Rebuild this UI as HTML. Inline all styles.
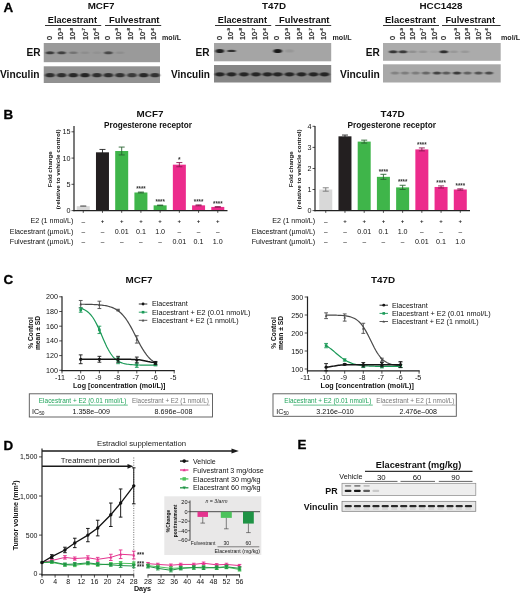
<!DOCTYPE html>
<html><head><meta charset="utf-8"><title>Figure</title>
<style>
html,body{margin:0;padding:0;background:#fff;}
svg{display:block;font-family:"Liberation Sans", Arial, sans-serif;}
</style></head><body>
<svg width="520" height="594" viewBox="0 0 520 594">
<defs>
<filter id="bl" x="-30%" y="-100%" width="160%" height="300%"><feGaussianBlur stdDeviation="0.9 0.7"/></filter>
<filter id="bl2" x="-30%" y="-100%" width="160%" height="300%"><feGaussianBlur stdDeviation="0.45"/></filter>
</defs>
<rect width="520" height="594" fill="#fff"/>
<text x="3.6" y="11.6" font-size="13.4" font-weight="bold" fill="#000" stroke="#000" stroke-width="0.3" stroke-linejoin="round">A</text>
<text x="3.6" y="118.8" font-size="13.4" font-weight="bold" fill="#000" stroke="#000" stroke-width="0.3" stroke-linejoin="round">B</text>
<text x="3.4" y="284.4" font-size="13.4" font-weight="bold" fill="#000" stroke="#000" stroke-width="0.3" stroke-linejoin="round">C</text>
<text x="3.6" y="450" font-size="13.4" font-weight="bold" fill="#000" stroke="#000" stroke-width="0.3" stroke-linejoin="round">D</text>
<text x="297.6" y="449.4" font-size="13.4" font-weight="bold" fill="#000" stroke="#000" stroke-width="0.3" stroke-linejoin="round">E</text>
<text x="101" y="9.4" font-size="9.8" font-weight="bold" text-anchor="middle" fill="#111">MCF7</text>
<text x="47.8" y="23" font-size="9.2" font-weight="bold" fill="#111" textLength="49.2" lengthAdjust="spacingAndGlyphs">Elacestrant</text>
<text x="109" y="23" font-size="9.2" font-weight="bold" fill="#111" textLength="50.5" lengthAdjust="spacingAndGlyphs">Fulvestrant</text>
<line x1="45" y1="25.5" x2="101.2" y2="25.5" stroke="#333" stroke-width="1.1" />
<line x1="105" y1="25.5" x2="161.2" y2="25.5" stroke="#333" stroke-width="1.1" />
<text x="52.1" y="40" font-size="7.3" fill="#222" transform="rotate(-90 52.1 40)" stroke="#222" stroke-width="0.22">0</text>
<text x="63.1" y="40" font-size="7.3" fill="#222" transform="rotate(-90 63.1 40)" stroke="#222" stroke-width="0.22">10<tspan font-size="4.4" dy="-2.5">-9</tspan></text>
<text x="75.10000000000001" y="40" font-size="7.3" fill="#222" transform="rotate(-90 75.10000000000001 40)" stroke="#222" stroke-width="0.22">10<tspan font-size="4.4" dy="-2.5">-8</tspan></text>
<text x="87.60000000000001" y="40" font-size="7.3" fill="#222" transform="rotate(-90 87.60000000000001 40)" stroke="#222" stroke-width="0.22">10<tspan font-size="4.4" dy="-2.5">-7</tspan></text>
<text x="98.85000000000001" y="40" font-size="7.3" fill="#222" transform="rotate(-90 98.85000000000001 40)" stroke="#222" stroke-width="0.22">10<tspan font-size="4.4" dy="-2.5">-6</tspan></text>
<text x="109.60000000000001" y="40" font-size="7.3" fill="#222" transform="rotate(-90 109.60000000000001 40)" stroke="#222" stroke-width="0.22">0</text>
<text x="120.60000000000001" y="40" font-size="7.3" fill="#222" transform="rotate(-90 120.60000000000001 40)" stroke="#222" stroke-width="0.22">10<tspan font-size="4.4" dy="-2.5">-9</tspan></text>
<text x="132.6" y="40" font-size="7.3" fill="#222" transform="rotate(-90 132.6 40)" stroke="#222" stroke-width="0.22">10<tspan font-size="4.4" dy="-2.5">-8</tspan></text>
<text x="144.6" y="40" font-size="7.3" fill="#222" transform="rotate(-90 144.6 40)" stroke="#222" stroke-width="0.22">10<tspan font-size="4.4" dy="-2.5">-7</tspan></text>
<text x="156.35" y="40" font-size="7.3" fill="#222" transform="rotate(-90 156.35 40)" stroke="#222" stroke-width="0.22">10<tspan font-size="4.4" dy="-2.5">-6</tspan></text>
<text x="162" y="39.6" font-size="7.3" font-weight="bold" fill="#222" textLength="19" lengthAdjust="spacingAndGlyphs">mol/L</text>
<rect x="43.75" y="43" width="116.25" height="19.200000000000003" fill="#9a9a9a" />
<rect x="43.75" y="66.3" width="116.25" height="16.700000000000003" fill="#919191" />
<ellipse cx="50" cy="52.7" rx="4.2" ry="1.5" fill="#000" opacity="0.62" filter="url(#bl)"/>
<ellipse cx="61.6" cy="52.7" rx="4.2" ry="1.5" fill="#000" opacity="0.58" filter="url(#bl)"/>
<ellipse cx="73.3" cy="52.7" rx="4.2" ry="1.2000000000000002" fill="#000" opacity="0.25" filter="url(#bl)"/>
<ellipse cx="85" cy="52.7" rx="4.2" ry="1.2000000000000002" fill="#000" opacity="0.08" filter="url(#bl)"/>
<ellipse cx="97" cy="52.7" rx="4.2" ry="1.2000000000000002" fill="#000" opacity="0.05" filter="url(#bl)"/>
<ellipse cx="108.4" cy="52.7" rx="4.2" ry="1.5" fill="#000" opacity="0.52" filter="url(#bl)"/>
<ellipse cx="120" cy="52.7" rx="4.2" ry="1.2000000000000002" fill="#000" opacity="0.08" filter="url(#bl)"/>
<ellipse cx="50" cy="75.2" rx="4.7" ry="2.1" fill="#000" opacity="0.68" filter="url(#bl)"/>
<ellipse cx="61.6" cy="75.2" rx="4.7" ry="2.1" fill="#000" opacity="0.68" filter="url(#bl)"/>
<ellipse cx="73.3" cy="75.2" rx="4.7" ry="2.1" fill="#000" opacity="0.72" filter="url(#bl)"/>
<ellipse cx="85" cy="75.2" rx="4.7" ry="2.1" fill="#000" opacity="0.75" filter="url(#bl)"/>
<ellipse cx="97" cy="75.2" rx="4.7" ry="2.1" fill="#000" opacity="0.68" filter="url(#bl)"/>
<ellipse cx="108.4" cy="75.2" rx="4.7" ry="2.1" fill="#000" opacity="0.68" filter="url(#bl)"/>
<ellipse cx="120" cy="75.2" rx="4.7" ry="2.1" fill="#000" opacity="0.66" filter="url(#bl)"/>
<ellipse cx="132" cy="75.2" rx="4.7" ry="2.1" fill="#000" opacity="0.6" filter="url(#bl)"/>
<ellipse cx="143.7" cy="75.2" rx="4.7" ry="2.1" fill="#000" opacity="0.72" filter="url(#bl)"/>
<ellipse cx="155" cy="75.2" rx="4.7" ry="2.1" fill="#000" opacity="0.66" filter="url(#bl)"/>
<text x="40.5" y="56.3" font-size="10.1" font-weight="bold" text-anchor="end" fill="#111">ER</text>
<text x="0" y="77.8" font-size="10.1" font-weight="bold" fill="#111" textLength="39.5" lengthAdjust="spacingAndGlyphs">Vinculin</text>
<text x="274" y="9.4" font-size="9.8" font-weight="bold" text-anchor="middle" fill="#111">T47D</text>
<text x="217.8" y="23" font-size="9.2" font-weight="bold" fill="#111" textLength="49.19999999999999" lengthAdjust="spacingAndGlyphs">Elacestrant</text>
<text x="279" y="23" font-size="9.2" font-weight="bold" fill="#111" textLength="50.5" lengthAdjust="spacingAndGlyphs">Fulvestrant</text>
<line x1="215" y1="25.5" x2="271.2" y2="25.5" stroke="#333" stroke-width="1.1" />
<line x1="275.2" y1="25.5" x2="331.2" y2="25.5" stroke="#333" stroke-width="1.1" />
<text x="221.7" y="40" font-size="7.3" fill="#222" transform="rotate(-90 221.7 40)" stroke="#222" stroke-width="0.22">0</text>
<text x="232.7" y="40" font-size="7.3" fill="#222" transform="rotate(-90 232.7 40)" stroke="#222" stroke-width="0.22">10<tspan font-size="4.4" dy="-2.5">-9</tspan></text>
<text x="244.7" y="40" font-size="7.3" fill="#222" transform="rotate(-90 244.7 40)" stroke="#222" stroke-width="0.22">10<tspan font-size="4.4" dy="-2.5">-8</tspan></text>
<text x="257.2" y="40" font-size="7.3" fill="#222" transform="rotate(-90 257.2 40)" stroke="#222" stroke-width="0.22">10<tspan font-size="4.4" dy="-2.5">-7</tspan></text>
<text x="268.45" y="40" font-size="7.3" fill="#222" transform="rotate(-90 268.45 40)" stroke="#222" stroke-width="0.22">10<tspan font-size="4.4" dy="-2.5">-6</tspan></text>
<text x="279.2" y="40" font-size="7.3" fill="#222" transform="rotate(-90 279.2 40)" stroke="#222" stroke-width="0.22">0</text>
<text x="290.2" y="40" font-size="7.3" fill="#222" transform="rotate(-90 290.2 40)" stroke="#222" stroke-width="0.22">10<tspan font-size="4.4" dy="-2.5">-9</tspan></text>
<text x="302.2" y="40" font-size="7.3" fill="#222" transform="rotate(-90 302.2 40)" stroke="#222" stroke-width="0.22">10<tspan font-size="4.4" dy="-2.5">-8</tspan></text>
<text x="314.2" y="40" font-size="7.3" fill="#222" transform="rotate(-90 314.2 40)" stroke="#222" stroke-width="0.22">10<tspan font-size="4.4" dy="-2.5">-7</tspan></text>
<text x="325.95" y="40" font-size="7.3" fill="#222" transform="rotate(-90 325.95 40)" stroke="#222" stroke-width="0.22">10<tspan font-size="4.4" dy="-2.5">-6</tspan></text>
<text x="332.5" y="39.6" font-size="7.3" font-weight="bold" fill="#222" textLength="19" lengthAdjust="spacingAndGlyphs">mol/L</text>
<rect x="214" y="43" width="117.19999999999999" height="18.299999999999997" fill="#a5a5a5" />
<rect x="214" y="65" width="117.19999999999999" height="17.5" fill="#868686" />
<ellipse cx="219.8" cy="50.9" rx="4.3" ry="2.0" fill="#000" opacity="0.8" filter="url(#bl)"/>
<ellipse cx="231.5" cy="50.9" rx="4.3" ry="1.2" fill="#000" opacity="0.7" filter="url(#bl)"/>
<ellipse cx="277.7" cy="50.9" rx="4.3" ry="2.0" fill="#000" opacity="0.85" filter="url(#bl)"/>
<ellipse cx="289.5" cy="50.9" rx="4.3" ry="1.6" fill="#000" opacity="0.08" filter="url(#bl)"/>
<ellipse cx="219.8" cy="74.3" rx="4.8" ry="2.1" fill="#000" opacity="0.72" filter="url(#bl)"/>
<ellipse cx="231.5" cy="74.3" rx="4.8" ry="2.1" fill="#000" opacity="0.72" filter="url(#bl)"/>
<ellipse cx="244" cy="74.3" rx="4.8" ry="2.1" fill="#000" opacity="0.72" filter="url(#bl)"/>
<ellipse cx="256" cy="74.3" rx="4.8" ry="2.1" fill="#000" opacity="0.72" filter="url(#bl)"/>
<ellipse cx="267.5" cy="74.3" rx="4.8" ry="2.1" fill="#000" opacity="0.72" filter="url(#bl)"/>
<ellipse cx="277.7" cy="74.3" rx="4.8" ry="2.1" fill="#000" opacity="0.72" filter="url(#bl)"/>
<ellipse cx="289.5" cy="74.3" rx="4.8" ry="2.1" fill="#000" opacity="0.72" filter="url(#bl)"/>
<ellipse cx="301.5" cy="74.3" rx="4.8" ry="2.1" fill="#000" opacity="0.72" filter="url(#bl)"/>
<ellipse cx="313.5" cy="74.3" rx="4.8" ry="2.1" fill="#000" opacity="0.72" filter="url(#bl)"/>
<ellipse cx="324.5" cy="74.3" rx="4.8" ry="2.1" fill="#000" opacity="0.72" filter="url(#bl)"/>
<text x="209.5" y="56.3" font-size="10.1" font-weight="bold" text-anchor="end" fill="#111">ER</text>
<text x="171" y="77.8" font-size="10.1" font-weight="bold" fill="#111" textLength="39" lengthAdjust="spacingAndGlyphs">Vinculin</text>
<text x="441" y="9.4" font-size="9.8" font-weight="bold" text-anchor="middle" fill="#111">HCC1428</text>
<text x="385" y="23" font-size="9.2" font-weight="bold" fill="#111" textLength="51" lengthAdjust="spacingAndGlyphs">Elacestrant</text>
<text x="445.5" y="23" font-size="9.2" font-weight="bold" fill="#111" textLength="49.5" lengthAdjust="spacingAndGlyphs">Fulvestrant</text>
<line x1="383" y1="25.5" x2="439" y2="25.5" stroke="#333" stroke-width="1.1" />
<line x1="442" y1="25.5" x2="500.6" y2="25.5" stroke="#333" stroke-width="1.1" />
<text x="395.0" y="40" font-size="7.3" fill="#222" transform="rotate(-90 395.0 40)" stroke="#222" stroke-width="0.22">0</text>
<text x="405.0" y="40" font-size="7.3" fill="#222" transform="rotate(-90 405.0 40)" stroke="#222" stroke-width="0.22">10<tspan font-size="4.4" dy="-2.5">-9</tspan></text>
<text x="415.0" y="40" font-size="7.3" fill="#222" transform="rotate(-90 415.0 40)" stroke="#222" stroke-width="0.22">10<tspan font-size="4.4" dy="-2.5">-8</tspan></text>
<text x="425.5" y="40" font-size="7.3" fill="#222" transform="rotate(-90 425.5 40)" stroke="#222" stroke-width="0.22">10<tspan font-size="4.4" dy="-2.5">-7</tspan></text>
<text x="436.5" y="40" font-size="7.3" fill="#222" transform="rotate(-90 436.5 40)" stroke="#222" stroke-width="0.22">10<tspan font-size="4.4" dy="-2.5">-6</tspan></text>
<text x="445.5" y="40" font-size="7.3" fill="#222" transform="rotate(-90 445.5 40)" stroke="#222" stroke-width="0.22">0</text>
<text x="459.7" y="40" font-size="7.3" fill="#222" transform="rotate(-90 459.7 40)" stroke="#222" stroke-width="0.22">10<tspan font-size="4.4" dy="-2.5">-9</tspan></text>
<text x="470.2" y="40" font-size="7.3" fill="#222" transform="rotate(-90 470.2 40)" stroke="#222" stroke-width="0.22">10<tspan font-size="4.4" dy="-2.5">-8</tspan></text>
<text x="480.8" y="40" font-size="7.3" fill="#222" transform="rotate(-90 480.8 40)" stroke="#222" stroke-width="0.22">10<tspan font-size="4.4" dy="-2.5">-7</tspan></text>
<text x="490.9" y="40" font-size="7.3" fill="#222" transform="rotate(-90 490.9 40)" stroke="#222" stroke-width="0.22">10<tspan font-size="4.4" dy="-2.5">-6</tspan></text>
<text x="501" y="39.6" font-size="7.3" font-weight="bold" fill="#222" textLength="19" lengthAdjust="spacingAndGlyphs">mol/L</text>
<rect x="383" y="43" width="117.69999999999999" height="17.799999999999997" fill="#ababab" />
<rect x="383" y="64.3" width="117.69999999999999" height="18.200000000000003" fill="#a8a8a8" />
<ellipse cx="393.2" cy="51.8" rx="4.2" ry="1.5" fill="#000" opacity="0.68" filter="url(#bl)"/>
<ellipse cx="403" cy="51.8" rx="4.2" ry="1.5" fill="#000" opacity="0.66" filter="url(#bl)"/>
<ellipse cx="412.5" cy="51.8" rx="4.2" ry="1.2000000000000002" fill="#000" opacity="0.15" filter="url(#bl)"/>
<ellipse cx="423" cy="51.8" rx="4.2" ry="1.2000000000000002" fill="#000" opacity="0.12" filter="url(#bl)"/>
<ellipse cx="434" cy="51.8" rx="4.2" ry="1.2000000000000002" fill="#000" opacity="0.05" filter="url(#bl)"/>
<ellipse cx="443.8" cy="51.8" rx="4.2" ry="1.5" fill="#000" opacity="0.72" filter="url(#bl)"/>
<ellipse cx="453.8" cy="51.8" rx="4.2" ry="1.2000000000000002" fill="#000" opacity="0.1" filter="url(#bl)"/>
<ellipse cx="465" cy="51.8" rx="4.2" ry="1.2000000000000002" fill="#000" opacity="0.1" filter="url(#bl)"/>
<text x="379.8" y="56.3" font-size="10.1" font-weight="bold" text-anchor="end" fill="#111">ER</text>
<text x="340" y="77.8" font-size="10.1" font-weight="bold" fill="#111" textLength="39.80000000000001" lengthAdjust="spacingAndGlyphs">Vinculin</text>
<ellipse cx="395" cy="73.1" rx="4.0" ry="1.5" fill="#000" opacity="0.22" filter="url(#bl)"/>
<ellipse cx="405" cy="73.1" rx="4.0" ry="1.5" fill="#000" opacity="0.25" filter="url(#bl)"/>
<ellipse cx="415.7" cy="73.1" rx="4.0" ry="1.5" fill="#000" opacity="0.25" filter="url(#bl)"/>
<ellipse cx="426" cy="73.1" rx="4.0" ry="1.5" fill="#000" opacity="0.38" filter="url(#bl)"/>
<ellipse cx="437" cy="73.1" rx="4.0" ry="1.5" fill="#000" opacity="0.6" filter="url(#bl)"/>
<ellipse cx="446.3" cy="73.1" rx="4.0" ry="1.5" fill="#000" opacity="0.45" filter="url(#bl)"/>
<ellipse cx="457" cy="73.1" rx="4.0" ry="1.5" fill="#000" opacity="0.65" filter="url(#bl)"/>
<ellipse cx="467.5" cy="73.1" rx="4.0" ry="1.5" fill="#000" opacity="0.42" filter="url(#bl)"/>
<ellipse cx="478.5" cy="73.1" rx="4.0" ry="1.5" fill="#000" opacity="0.5" filter="url(#bl)"/>
<ellipse cx="489" cy="73.1" rx="4.0" ry="1.5" fill="#000" opacity="0.55" filter="url(#bl)"/>
<text x="150" y="117.4" font-size="9.9" font-weight="bold" text-anchor="middle" fill="#111">MCF7</text>
<text x="104" y="128.2" font-size="8.2" font-weight="bold" fill="#111" textLength="88" lengthAdjust="spacingAndGlyphs">Progesterone receptor</text>
<rect x="76.75" y="206.14" width="13" height="4.46" fill="#d8d8d8" />
<line x1="83.25" y1="205.8225" x2="83.25" y2="206.4525" stroke="#777" stroke-width="0.9" />
<line x1="80.25" y1="205.8225" x2="86.25" y2="205.8225" stroke="#777" stroke-width="0.9" />
<line x1="80.25" y1="206.4525" x2="86.25" y2="206.4525" stroke="#777" stroke-width="0.9" />
<line x1="83.25" y1="210.6" x2="83.25" y2="212.79999999999998" stroke="#222" stroke-width="0.8" />
<rect x="95.97" y="152.32" width="13" height="58.28" fill="#231f20" />
<line x1="102.47" y1="149.4375" x2="102.47" y2="155.21249999999998" stroke="#222" stroke-width="0.9" />
<line x1="99.47" y1="149.4375" x2="105.47" y2="149.4375" stroke="#222" stroke-width="0.9" />
<line x1="99.47" y1="155.21249999999998" x2="105.47" y2="155.21249999999998" stroke="#222" stroke-width="0.9" />
<line x1="102.47" y1="210.6" x2="102.47" y2="212.79999999999998" stroke="#222" stroke-width="0.8" />
<rect x="115.19" y="151.01" width="13" height="59.59" fill="#3fb54a" />
<line x1="121.69" y1="147.075" x2="121.69" y2="154.95" stroke="#2a6432" stroke-width="0.9" />
<line x1="118.69" y1="147.075" x2="124.69" y2="147.075" stroke="#2a6432" stroke-width="0.9" />
<line x1="118.69" y1="154.95" x2="124.69" y2="154.95" stroke="#2a6432" stroke-width="0.9" />
<line x1="121.69" y1="210.6" x2="121.69" y2="212.79999999999998" stroke="#222" stroke-width="0.8" />
<rect x="134.41" y="192.49" width="13" height="18.11" fill="#3fb54a" />
<line x1="140.91" y1="192.0675" x2="140.91" y2="192.90749999999997" stroke="#2a6432" stroke-width="0.9" />
<line x1="137.91" y1="192.0675" x2="143.91" y2="192.0675" stroke="#2a6432" stroke-width="0.9" />
<line x1="137.91" y1="192.90749999999997" x2="143.91" y2="192.90749999999997" stroke="#2a6432" stroke-width="0.9" />
<text x="140.91" y="191.27" font-size="6.6" font-weight="bold" text-anchor="middle" fill="#333" textLength="9.5" lengthAdjust="spacingAndGlyphs">****</text>
<line x1="140.91" y1="210.6" x2="140.91" y2="212.79999999999998" stroke="#222" stroke-width="0.8" />
<rect x="153.63" y="205.35" width="13" height="5.25" fill="#3fb54a" />
<line x1="160.13" y1="205.0875" x2="160.13" y2="205.61249999999998" stroke="#2a6432" stroke-width="0.9" />
<line x1="157.13" y1="205.0875" x2="163.13" y2="205.0875" stroke="#2a6432" stroke-width="0.9" />
<line x1="157.13" y1="205.61249999999998" x2="163.13" y2="205.61249999999998" stroke="#2a6432" stroke-width="0.9" />
<text x="160.13" y="204.29" font-size="6.6" font-weight="bold" text-anchor="middle" fill="#333" textLength="9.5" lengthAdjust="spacingAndGlyphs">****</text>
<line x1="160.13" y1="210.6" x2="160.13" y2="212.79999999999998" stroke="#222" stroke-width="0.8" />
<rect x="172.85" y="164.66" width="13" height="45.94" fill="#ec2b8c" />
<line x1="179.35" y1="162.5625" x2="179.35" y2="166.7625" stroke="#8a1a50" stroke-width="0.9" />
<line x1="176.35" y1="162.5625" x2="182.35" y2="162.5625" stroke="#8a1a50" stroke-width="0.9" />
<line x1="176.35" y1="166.7625" x2="182.35" y2="166.7625" stroke="#8a1a50" stroke-width="0.9" />
<text x="179.35" y="161.76" font-size="6.6" font-weight="bold" text-anchor="middle" fill="#333">*</text>
<line x1="179.35" y1="210.6" x2="179.35" y2="212.79999999999998" stroke="#222" stroke-width="0.8" />
<rect x="192.07" y="205.35" width="13" height="5.25" fill="#ec2b8c" />
<line x1="198.57" y1="204.93" x2="198.57" y2="205.76999999999998" stroke="#8a1a50" stroke-width="0.9" />
<line x1="195.57" y1="204.93" x2="201.57" y2="204.93" stroke="#8a1a50" stroke-width="0.9" />
<line x1="195.57" y1="205.76999999999998" x2="201.57" y2="205.76999999999998" stroke="#8a1a50" stroke-width="0.9" />
<text x="198.57" y="204.13" font-size="6.6" font-weight="bold" text-anchor="middle" fill="#333" textLength="9.5" lengthAdjust="spacingAndGlyphs">****</text>
<line x1="198.57" y1="210.6" x2="198.57" y2="212.79999999999998" stroke="#222" stroke-width="0.8" />
<rect x="211.29" y="206.92" width="13" height="3.68" fill="#ec2b8c" />
<line x1="217.79" y1="206.6625" x2="217.79" y2="207.18749999999997" stroke="#8a1a50" stroke-width="0.9" />
<line x1="214.79" y1="206.6625" x2="220.79" y2="206.6625" stroke="#8a1a50" stroke-width="0.9" />
<line x1="214.79" y1="207.18749999999997" x2="220.79" y2="207.18749999999997" stroke="#8a1a50" stroke-width="0.9" />
<text x="217.79" y="205.86" font-size="6.6" font-weight="bold" text-anchor="middle" fill="#333" textLength="9.5" lengthAdjust="spacingAndGlyphs">****</text>
<line x1="217.79" y1="210.6" x2="217.79" y2="212.79999999999998" stroke="#222" stroke-width="0.8" />
<line x1="74" y1="126" x2="74" y2="211.2" stroke="#222" stroke-width="1.2" />
<line x1="73.4" y1="210.6" x2="227.5" y2="210.6" stroke="#222" stroke-width="1.2" />
<line x1="71.5" y1="131.8" x2="74" y2="131.8" stroke="#222" stroke-width="0.8" />
<text x="70.5" y="134.3" font-size="7.2" text-anchor="end" fill="#111">15</text>
<line x1="71.5" y1="158.1" x2="74" y2="158.1" stroke="#222" stroke-width="0.8" />
<text x="70.5" y="160.6" font-size="7.2" text-anchor="end" fill="#111">10</text>
<line x1="71.5" y1="184.3" x2="74" y2="184.3" stroke="#222" stroke-width="0.8" />
<text x="70.5" y="186.8" font-size="7.2" text-anchor="end" fill="#111">5</text>
<line x1="71.5" y1="210.6" x2="74" y2="210.6" stroke="#222" stroke-width="0.8" />
<text x="70.5" y="213.1" font-size="7.2" text-anchor="end" fill="#111">0</text>
<text x="52.5" y="169.3" font-size="6.1" font-weight="bold" text-anchor="middle" fill="#111" transform="rotate(-90 52.5 169.3)">Fold change</text>
<text x="60" y="169.3" font-size="6.1" font-weight="bold" text-anchor="middle" fill="#111" transform="rotate(-90 60 169.3)" textLength="80" lengthAdjust="spacingAndGlyphs">(relative to vehicle control)</text>
<text x="73.3" y="223.3" font-size="7.15" text-anchor="end" fill="#111">E2 (1 nmol/L)</text>
<text x="73.3" y="234.1" font-size="7.15" text-anchor="end" fill="#111" textLength="63.5" lengthAdjust="spacingAndGlyphs">Elacestrant (µmol/L)</text>
<text x="73.3" y="244.3" font-size="7.15" text-anchor="end" fill="#111" textLength="63.5" lengthAdjust="spacingAndGlyphs">Fulvestrant (µmol/L)</text>
<text x="83.25" y="223.7" font-size="6.5" text-anchor="middle" fill="#222">–</text>
<text x="83.25" y="233.79999999999998" font-size="6.5" text-anchor="middle" fill="#222">–</text>
<text x="83.25" y="244.0" font-size="6.5" text-anchor="middle" fill="#222">–</text>
<text x="102.47" y="223.3" font-size="6" font-weight="bold" text-anchor="middle" fill="#222">+</text>
<text x="102.47" y="233.79999999999998" font-size="6.5" text-anchor="middle" fill="#222">–</text>
<text x="102.47" y="244.0" font-size="6.5" text-anchor="middle" fill="#222">–</text>
<text x="121.69" y="223.3" font-size="6" font-weight="bold" text-anchor="middle" fill="#222">+</text>
<text x="121.69" y="234.1" font-size="7.15" text-anchor="middle" fill="#111">0.01</text>
<text x="121.69" y="244.0" font-size="6.5" text-anchor="middle" fill="#222">–</text>
<text x="140.91" y="223.3" font-size="6" font-weight="bold" text-anchor="middle" fill="#222">+</text>
<text x="140.91" y="234.1" font-size="7.15" text-anchor="middle" fill="#111">0.1</text>
<text x="140.91" y="244.0" font-size="6.5" text-anchor="middle" fill="#222">–</text>
<text x="160.13" y="223.3" font-size="6" font-weight="bold" text-anchor="middle" fill="#222">+</text>
<text x="160.13" y="234.1" font-size="7.15" text-anchor="middle" fill="#111">1.0</text>
<text x="160.13" y="244.0" font-size="6.5" text-anchor="middle" fill="#222">–</text>
<text x="179.35" y="223.3" font-size="6" font-weight="bold" text-anchor="middle" fill="#222">+</text>
<text x="179.35" y="233.79999999999998" font-size="6.5" text-anchor="middle" fill="#222">–</text>
<text x="179.35" y="244.3" font-size="7.15" text-anchor="middle" fill="#111">0.01</text>
<text x="198.57" y="223.3" font-size="6" font-weight="bold" text-anchor="middle" fill="#222">+</text>
<text x="198.57" y="233.79999999999998" font-size="6.5" text-anchor="middle" fill="#222">–</text>
<text x="198.57" y="244.3" font-size="7.15" text-anchor="middle" fill="#111">0.1</text>
<text x="217.79" y="223.3" font-size="6" font-weight="bold" text-anchor="middle" fill="#222">+</text>
<text x="217.79" y="233.79999999999998" font-size="6.5" text-anchor="middle" fill="#222">–</text>
<text x="217.79" y="244.3" font-size="7.15" text-anchor="middle" fill="#111">1.0</text>
<text x="392.5" y="117.4" font-size="9.9" font-weight="bold" text-anchor="middle" fill="#111">T47D</text>
<text x="347.5" y="128.2" font-size="8.2" font-weight="bold" fill="#111" textLength="88.5" lengthAdjust="spacingAndGlyphs">Progesterone receptor</text>
<rect x="319.25" y="189.5" width="13" height="21.1" fill="#d8d8d8" />
<line x1="325.75" y1="187.812" x2="325.75" y2="191.188" stroke="#777" stroke-width="0.9" />
<line x1="322.75" y1="187.812" x2="328.75" y2="187.812" stroke="#777" stroke-width="0.9" />
<line x1="322.75" y1="191.188" x2="328.75" y2="191.188" stroke="#777" stroke-width="0.9" />
<line x1="325.75" y1="210.6" x2="325.75" y2="212.79999999999998" stroke="#222" stroke-width="0.8" />
<rect x="338.47" y="136.33" width="13" height="74.27" fill="#231f20" />
<line x1="344.97" y1="135.06199999999998" x2="344.97" y2="137.59399999999997" stroke="#222" stroke-width="0.9" />
<line x1="341.97" y1="135.06199999999998" x2="347.97" y2="135.06199999999998" stroke="#222" stroke-width="0.9" />
<line x1="341.97" y1="137.59399999999997" x2="347.97" y2="137.59399999999997" stroke="#222" stroke-width="0.9" />
<line x1="344.97" y1="210.6" x2="344.97" y2="212.79999999999998" stroke="#222" stroke-width="0.8" />
<rect x="357.69" y="141.6" width="13" height="69.0" fill="#3fb54a" />
<line x1="364.19" y1="140.126" x2="364.19" y2="143.08" stroke="#2a6432" stroke-width="0.9" />
<line x1="361.19" y1="140.126" x2="367.19" y2="140.126" stroke="#2a6432" stroke-width="0.9" />
<line x1="361.19" y1="143.08" x2="367.19" y2="143.08" stroke="#2a6432" stroke-width="0.9" />
<line x1="364.19" y1="210.6" x2="364.19" y2="212.79999999999998" stroke="#222" stroke-width="0.8" />
<rect x="376.91" y="176.84" width="13" height="33.76" fill="#3fb54a" />
<line x1="383.40999999999997" y1="174.30799999999996" x2="383.40999999999997" y2="179.37199999999999" stroke="#2a6432" stroke-width="0.9" />
<line x1="380.40999999999997" y1="174.30799999999996" x2="386.40999999999997" y2="174.30799999999996" stroke="#2a6432" stroke-width="0.9" />
<line x1="380.40999999999997" y1="179.37199999999999" x2="386.40999999999997" y2="179.37199999999999" stroke="#2a6432" stroke-width="0.9" />
<text x="383.41" y="173.51" font-size="6.6" font-weight="bold" text-anchor="middle" fill="#333" textLength="9.5" lengthAdjust="spacingAndGlyphs">****</text>
<line x1="383.40999999999997" y1="210.6" x2="383.40999999999997" y2="212.79999999999998" stroke="#222" stroke-width="0.8" />
<rect x="396.13" y="187.39" width="13" height="23.21" fill="#3fb54a" />
<line x1="402.63" y1="185.27999999999997" x2="402.63" y2="189.5" stroke="#2a6432" stroke-width="0.9" />
<line x1="399.63" y1="185.27999999999997" x2="405.63" y2="185.27999999999997" stroke="#2a6432" stroke-width="0.9" />
<line x1="399.63" y1="189.5" x2="405.63" y2="189.5" stroke="#2a6432" stroke-width="0.9" />
<text x="402.63" y="184.48" font-size="6.6" font-weight="bold" text-anchor="middle" fill="#333" textLength="9.5" lengthAdjust="spacingAndGlyphs">****</text>
<line x1="402.63" y1="210.6" x2="402.63" y2="212.79999999999998" stroke="#222" stroke-width="0.8" />
<rect x="415.35" y="149.41" width="13" height="61.19" fill="#ec2b8c" />
<line x1="421.85" y1="147.933" x2="421.85" y2="150.887" stroke="#8a1a50" stroke-width="0.9" />
<line x1="418.85" y1="147.933" x2="424.85" y2="147.933" stroke="#8a1a50" stroke-width="0.9" />
<line x1="418.85" y1="150.887" x2="424.85" y2="150.887" stroke="#8a1a50" stroke-width="0.9" />
<text x="421.85" y="147.13" font-size="6.6" font-weight="bold" text-anchor="middle" fill="#333" textLength="9.5" lengthAdjust="spacingAndGlyphs">****</text>
<line x1="421.85" y1="210.6" x2="421.85" y2="212.79999999999998" stroke="#222" stroke-width="0.8" />
<rect x="434.57" y="186.97" width="13" height="23.63" fill="#ec2b8c" />
<line x1="441.07" y1="185.91299999999998" x2="441.07" y2="188.023" stroke="#8a1a50" stroke-width="0.9" />
<line x1="438.07" y1="185.91299999999998" x2="444.07" y2="185.91299999999998" stroke="#8a1a50" stroke-width="0.9" />
<line x1="438.07" y1="188.023" x2="444.07" y2="188.023" stroke="#8a1a50" stroke-width="0.9" />
<text x="441.07" y="185.11" font-size="6.6" font-weight="bold" text-anchor="middle" fill="#333" textLength="9.5" lengthAdjust="spacingAndGlyphs">****</text>
<line x1="441.07" y1="210.6" x2="441.07" y2="212.79999999999998" stroke="#222" stroke-width="0.8" />
<rect x="453.79" y="189.5" width="13" height="21.1" fill="#ec2b8c" />
<line x1="460.28999999999996" y1="188.867" x2="460.28999999999996" y2="190.133" stroke="#8a1a50" stroke-width="0.9" />
<line x1="457.28999999999996" y1="188.867" x2="463.28999999999996" y2="188.867" stroke="#8a1a50" stroke-width="0.9" />
<line x1="457.28999999999996" y1="190.133" x2="463.28999999999996" y2="190.133" stroke="#8a1a50" stroke-width="0.9" />
<text x="460.29" y="188.07" font-size="6.6" font-weight="bold" text-anchor="middle" fill="#333" textLength="9.5" lengthAdjust="spacingAndGlyphs">****</text>
<line x1="460.28999999999996" y1="210.6" x2="460.28999999999996" y2="212.79999999999998" stroke="#222" stroke-width="0.8" />
<line x1="315" y1="126" x2="315" y2="211.2" stroke="#222" stroke-width="1.2" />
<line x1="314.4" y1="210.6" x2="470" y2="210.6" stroke="#222" stroke-width="1.2" />
<line x1="312.5" y1="126.3" x2="315" y2="126.3" stroke="#222" stroke-width="0.8" />
<text x="311.5" y="128.8" font-size="7.2" text-anchor="end" fill="#111">4</text>
<line x1="312.5" y1="147.4" x2="315" y2="147.4" stroke="#222" stroke-width="0.8" />
<text x="311.5" y="149.9" font-size="7.2" text-anchor="end" fill="#111">3</text>
<line x1="312.5" y1="168.5" x2="315" y2="168.5" stroke="#222" stroke-width="0.8" />
<text x="311.5" y="171.0" font-size="7.2" text-anchor="end" fill="#111">2</text>
<line x1="312.5" y1="189.5" x2="315" y2="189.5" stroke="#222" stroke-width="0.8" />
<text x="311.5" y="192.0" font-size="7.2" text-anchor="end" fill="#111">1</text>
<line x1="312.5" y1="210.6" x2="315" y2="210.6" stroke="#222" stroke-width="0.8" />
<text x="311.5" y="213.1" font-size="7.2" text-anchor="end" fill="#111">0</text>
<text x="293.5" y="169.3" font-size="6.1" font-weight="bold" text-anchor="middle" fill="#111" transform="rotate(-90 293.5 169.3)">Fold change</text>
<text x="301" y="169.3" font-size="6.1" font-weight="bold" text-anchor="middle" fill="#111" transform="rotate(-90 301 169.3)" textLength="80" lengthAdjust="spacingAndGlyphs">(relative to vehicle control)</text>
<text x="315.2" y="223.3" font-size="7.15" text-anchor="end" fill="#111">E2 (1 nmol/L)</text>
<text x="315.2" y="234.1" font-size="7.15" text-anchor="end" fill="#111" textLength="63.5" lengthAdjust="spacingAndGlyphs">Elacestrant (µmol/L)</text>
<text x="315.2" y="244.3" font-size="7.15" text-anchor="end" fill="#111" textLength="63.5" lengthAdjust="spacingAndGlyphs">Fulvestrant (µmol/L)</text>
<text x="325.75" y="223.7" font-size="6.5" text-anchor="middle" fill="#222">–</text>
<text x="325.75" y="233.79999999999998" font-size="6.5" text-anchor="middle" fill="#222">–</text>
<text x="325.75" y="244.0" font-size="6.5" text-anchor="middle" fill="#222">–</text>
<text x="344.97" y="223.3" font-size="6" font-weight="bold" text-anchor="middle" fill="#222">+</text>
<text x="344.97" y="233.79999999999998" font-size="6.5" text-anchor="middle" fill="#222">–</text>
<text x="344.97" y="244.0" font-size="6.5" text-anchor="middle" fill="#222">–</text>
<text x="364.19" y="223.3" font-size="6" font-weight="bold" text-anchor="middle" fill="#222">+</text>
<text x="364.19" y="234.1" font-size="7.15" text-anchor="middle" fill="#111">0.01</text>
<text x="364.19" y="244.0" font-size="6.5" text-anchor="middle" fill="#222">–</text>
<text x="383.41" y="223.3" font-size="6" font-weight="bold" text-anchor="middle" fill="#222">+</text>
<text x="383.41" y="234.1" font-size="7.15" text-anchor="middle" fill="#111">0.1</text>
<text x="383.41" y="244.0" font-size="6.5" text-anchor="middle" fill="#222">–</text>
<text x="402.63" y="223.3" font-size="6" font-weight="bold" text-anchor="middle" fill="#222">+</text>
<text x="402.63" y="234.1" font-size="7.15" text-anchor="middle" fill="#111">1.0</text>
<text x="402.63" y="244.0" font-size="6.5" text-anchor="middle" fill="#222">–</text>
<text x="421.85" y="223.3" font-size="6" font-weight="bold" text-anchor="middle" fill="#222">+</text>
<text x="421.85" y="233.79999999999998" font-size="6.5" text-anchor="middle" fill="#222">–</text>
<text x="421.85" y="244.3" font-size="7.15" text-anchor="middle" fill="#111">0.01</text>
<text x="441.07" y="223.3" font-size="6" font-weight="bold" text-anchor="middle" fill="#222">+</text>
<text x="441.07" y="233.79999999999998" font-size="6.5" text-anchor="middle" fill="#222">–</text>
<text x="441.07" y="244.3" font-size="7.15" text-anchor="middle" fill="#111">0.1</text>
<text x="460.29" y="223.3" font-size="6" font-weight="bold" text-anchor="middle" fill="#222">+</text>
<text x="460.29" y="233.79999999999998" font-size="6.5" text-anchor="middle" fill="#222">–</text>
<text x="460.29" y="244.3" font-size="7.15" text-anchor="middle" fill="#111">1.0</text>
<text x="139" y="282.5" font-size="9.9" font-weight="bold" text-anchor="middle" fill="#111">MCF7</text>
<line x1="62" y1="296.3" x2="62" y2="371.20000000000005" stroke="#222" stroke-width="1.2" />
<line x1="61.4" y1="370.6" x2="174.8" y2="370.6" stroke="#222" stroke-width="1.2" />
<line x1="59.2" y1="296.8" x2="62" y2="296.8" stroke="#222" stroke-width="0.8" />
<text x="58.0" y="299.3" font-size="7.15" text-anchor="end" fill="#111">200</text>
<line x1="59.2" y1="311.5" x2="62" y2="311.5" stroke="#222" stroke-width="0.8" />
<text x="58.0" y="314.0" font-size="7.15" text-anchor="end" fill="#111">180</text>
<line x1="59.2" y1="326.2" x2="62" y2="326.2" stroke="#222" stroke-width="0.8" />
<text x="58.0" y="328.7" font-size="7.15" text-anchor="end" fill="#111">160</text>
<line x1="59.2" y1="340.90000000000003" x2="62" y2="340.90000000000003" stroke="#222" stroke-width="0.8" />
<text x="58.0" y="343.4" font-size="7.15" text-anchor="end" fill="#111">140</text>
<line x1="59.2" y1="355.6" x2="62" y2="355.6" stroke="#222" stroke-width="0.8" />
<text x="58.0" y="358.1" font-size="7.15" text-anchor="end" fill="#111">120</text>
<line x1="59.2" y1="370.3" x2="62" y2="370.3" stroke="#222" stroke-width="0.8" />
<text x="58.0" y="372.8" font-size="7.15" text-anchor="end" fill="#111">100</text>
<line x1="62.0" y1="370.6" x2="62.0" y2="373.40000000000003" stroke="#222" stroke-width="0.8" />
<text x="60.0" y="379.5" font-size="7.15" text-anchor="middle" fill="#111">-11</text>
<line x1="80.7" y1="370.6" x2="80.7" y2="373.40000000000003" stroke="#222" stroke-width="0.8" />
<text x="79.7" y="379.5" font-size="7.15" text-anchor="middle" fill="#111">-10</text>
<line x1="99.4" y1="370.6" x2="99.4" y2="373.40000000000003" stroke="#222" stroke-width="0.8" />
<text x="98.4" y="379.5" font-size="7.15" text-anchor="middle" fill="#111">-9</text>
<line x1="118.1" y1="370.6" x2="118.1" y2="373.40000000000003" stroke="#222" stroke-width="0.8" />
<text x="117.1" y="379.5" font-size="7.15" text-anchor="middle" fill="#111">-8</text>
<line x1="136.8" y1="370.6" x2="136.8" y2="373.40000000000003" stroke="#222" stroke-width="0.8" />
<text x="135.8" y="379.5" font-size="7.15" text-anchor="middle" fill="#111">-7</text>
<line x1="155.5" y1="370.6" x2="155.5" y2="373.40000000000003" stroke="#222" stroke-width="0.8" />
<text x="154.5" y="379.5" font-size="7.15" text-anchor="middle" fill="#111">-6</text>
<line x1="174.2" y1="370.6" x2="174.2" y2="373.40000000000003" stroke="#222" stroke-width="0.8" />
<text x="173.2" y="379.5" font-size="7.15" text-anchor="middle" fill="#111">-5</text>
<text x="73" y="388.1" font-size="7.2" font-weight="bold" fill="#111" textLength="92.5" lengthAdjust="spacingAndGlyphs">Log [concentration (mol/L)]</text>
<text x="32.6" y="333" font-size="6.7" font-weight="bold" text-anchor="middle" fill="#111" transform="rotate(-90 32.6 333)">% Control</text>
<text x="40.300000000000004" y="333" font-size="6.7" font-weight="bold" text-anchor="middle" fill="#111" transform="rotate(-90 40.300000000000004 333)">mean ± SD</text>
<polyline points="80.70,304.22 81.95,304.24 83.19,304.25 84.44,304.27 85.69,304.29 86.93,304.31 88.18,304.33 89.43,304.36 90.67,304.40 91.92,304.44 93.17,304.49 94.41,304.54 95.66,304.61 96.91,304.69 98.15,304.77 99.40,304.88 100.65,304.99 101.89,305.13 103.14,305.29 104.39,305.48 105.63,305.69 106.88,305.94 108.13,306.23 109.37,306.56 110.62,306.95 111.87,307.39 113.11,307.89 114.36,308.47 115.61,309.13 116.85,309.88 118.10,310.74 119.35,311.70 120.59,312.78 121.84,313.99 123.09,315.34 124.33,316.83 125.58,318.46 126.83,320.24 128.07,322.16 129.32,324.21 130.57,326.38 131.81,328.66 133.06,331.01 134.31,333.43 135.55,335.88 136.80,338.33 138.05,340.75 139.29,343.12 140.54,345.42 141.79,347.61 143.03,349.69 144.28,351.63 145.53,353.44 146.77,355.10 148.02,356.62 149.27,357.99 150.51,359.23 151.76,360.34 153.01,361.33 154.25,362.20 155.50,362.97" fill="none" stroke="#4a4a4a" stroke-width="1.2"/>
<line x1="80.7" y1="300.47499999999997" x2="80.7" y2="307.825" stroke="#4a4a4a" stroke-width="0.9" />
<line x1="78.8" y1="300.47499999999997" x2="82.60000000000001" y2="300.47499999999997" stroke="#4a4a4a" stroke-width="0.9" />
<line x1="78.8" y1="307.825" x2="82.60000000000001" y2="307.825" stroke="#4a4a4a" stroke-width="0.9" />
<polygon points="79.40,305.25 82.00,305.25 80.70,302.85" fill="#4a4a4a"/>
<line x1="99.4" y1="301.21" x2="99.4" y2="308.56" stroke="#4a4a4a" stroke-width="0.9" />
<line x1="97.5" y1="301.21" x2="101.30000000000001" y2="301.21" stroke="#4a4a4a" stroke-width="0.9" />
<line x1="97.5" y1="308.56" x2="101.30000000000001" y2="308.56" stroke="#4a4a4a" stroke-width="0.9" />
<polygon points="98.10,305.99 100.70,305.99 99.40,303.58" fill="#4a4a4a"/>
<line x1="118.1" y1="309.295" x2="118.1" y2="310.76500000000004" stroke="#4a4a4a" stroke-width="0.9" />
<line x1="116.19999999999999" y1="309.295" x2="120.0" y2="309.295" stroke="#4a4a4a" stroke-width="0.9" />
<line x1="116.19999999999999" y1="310.76500000000004" x2="120.0" y2="310.76500000000004" stroke="#4a4a4a" stroke-width="0.9" />
<polygon points="116.80,311.13 119.40,311.13 118.10,308.73" fill="#4a4a4a"/>
<line x1="136.8" y1="335.755" x2="136.8" y2="343.105" stroke="#4a4a4a" stroke-width="0.9" />
<line x1="134.9" y1="335.755" x2="138.70000000000002" y2="335.755" stroke="#4a4a4a" stroke-width="0.9" />
<line x1="134.9" y1="343.105" x2="138.70000000000002" y2="343.105" stroke="#4a4a4a" stroke-width="0.9" />
<polygon points="135.50,340.53 138.10,340.53 136.80,338.13" fill="#4a4a4a"/>
<line x1="155.5" y1="362.215" x2="155.5" y2="365.15500000000003" stroke="#4a4a4a" stroke-width="0.9" />
<line x1="153.6" y1="362.215" x2="157.4" y2="362.215" stroke="#4a4a4a" stroke-width="0.9" />
<line x1="153.6" y1="365.15500000000003" x2="157.4" y2="365.15500000000003" stroke="#4a4a4a" stroke-width="0.9" />
<polygon points="154.20,364.79 156.80,364.79 155.50,362.38" fill="#4a4a4a"/>
<polyline points="80.70,308.27 81.95,308.68 83.19,309.16 84.44,309.75 85.69,310.45 86.93,311.27 88.18,312.25 89.43,313.40 90.67,314.73 91.92,316.27 93.17,318.02 94.41,320.00 95.66,322.21 96.91,324.62 98.15,327.22 99.40,329.98 100.65,332.85 101.89,335.77 103.14,338.69 104.39,341.56 105.63,344.32 106.88,346.92 108.13,349.33 109.37,351.53 110.62,353.50 111.87,355.26 113.11,356.79 114.36,358.12 115.61,359.27 116.85,360.25 118.10,361.07 119.35,361.77 120.59,362.35 121.84,362.84 123.09,363.24 124.33,363.58 125.58,363.86 126.83,364.09 128.07,364.28 129.32,364.44 130.57,364.56 131.81,364.67 133.06,364.76 134.31,364.83 135.55,364.89 136.80,364.94 138.05,364.98 139.29,365.01 140.54,365.03 141.79,365.06 143.03,365.07 144.28,365.09 145.53,365.10 146.77,365.11 148.02,365.12 149.27,365.13 150.51,365.13 151.76,365.13 153.01,365.14 154.25,365.14 155.50,365.14" fill="none" stroke="#1b9a58" stroke-width="1.2"/>
<line x1="80.7" y1="307.82500000000005" x2="80.7" y2="312.235" stroke="#1b9a58" stroke-width="0.9" />
<line x1="78.8" y1="307.82500000000005" x2="82.60000000000001" y2="307.82500000000005" stroke="#1b9a58" stroke-width="0.9" />
<line x1="78.8" y1="312.235" x2="82.60000000000001" y2="312.235" stroke="#1b9a58" stroke-width="0.9" />
<rect x="79.4" y="308.73" width="2.6" height="2.6" fill="#1b9a58" />
<line x1="99.4" y1="326.2" x2="99.4" y2="333.55" stroke="#1b9a58" stroke-width="0.9" />
<line x1="97.5" y1="326.2" x2="101.30000000000001" y2="326.2" stroke="#1b9a58" stroke-width="0.9" />
<line x1="97.5" y1="333.55" x2="101.30000000000001" y2="333.55" stroke="#1b9a58" stroke-width="0.9" />
<rect x="98.1" y="328.57" width="2.6" height="2.6" fill="#1b9a58" />
<line x1="118.1" y1="357.805" x2="118.1" y2="363.685" stroke="#1b9a58" stroke-width="0.9" />
<line x1="116.19999999999999" y1="357.805" x2="120.0" y2="357.805" stroke="#1b9a58" stroke-width="0.9" />
<line x1="116.19999999999999" y1="363.685" x2="120.0" y2="363.685" stroke="#1b9a58" stroke-width="0.9" />
<rect x="116.8" y="359.44" width="2.6" height="2.6" fill="#1b9a58" />
<line x1="136.8" y1="362.95000000000005" x2="136.8" y2="367.36" stroke="#1b9a58" stroke-width="0.9" />
<line x1="134.9" y1="362.95000000000005" x2="138.70000000000002" y2="362.95000000000005" stroke="#1b9a58" stroke-width="0.9" />
<line x1="134.9" y1="367.36" x2="138.70000000000002" y2="367.36" stroke="#1b9a58" stroke-width="0.9" />
<rect x="135.5" y="363.86" width="2.6" height="2.6" fill="#1b9a58" />
<line x1="155.5" y1="362.95" x2="155.5" y2="365.89000000000004" stroke="#1b9a58" stroke-width="0.9" />
<line x1="153.6" y1="362.95" x2="157.4" y2="362.95" stroke="#1b9a58" stroke-width="0.9" />
<line x1="153.6" y1="365.89000000000004" x2="157.4" y2="365.89000000000004" stroke="#1b9a58" stroke-width="0.9" />
<rect x="154.2" y="363.12" width="2.6" height="2.6" fill="#1b9a58" />
<polyline points="80.70,359.28 81.95,359.28 83.19,359.28 84.44,359.28 85.69,359.28 86.93,359.28 88.18,359.28 89.43,359.28 90.67,359.28 91.92,359.28 93.17,359.28 94.41,359.28 95.66,359.28 96.91,359.28 98.15,359.28 99.40,359.28 100.65,359.28 101.89,359.28 103.14,359.28 104.39,359.28 105.63,359.28 106.88,359.28 108.13,359.28 109.37,359.28 110.62,359.28 111.87,359.28 113.11,359.28 114.36,359.28 115.61,359.28 116.85,359.28 118.10,359.28 119.35,359.28 120.59,359.28 121.84,359.28 123.09,359.29 124.33,359.29 125.58,359.30 126.83,359.31 128.07,359.32 129.32,359.33 130.57,359.35 131.81,359.38 133.06,359.42 134.31,359.46 135.55,359.53 136.80,359.61 138.05,359.71 139.29,359.85 140.54,360.01 141.79,360.21 143.03,360.44 144.28,360.70 145.53,360.97 146.77,361.25 148.02,361.53 149.27,361.78 150.51,362.01 151.76,362.21 153.01,362.38 154.25,362.51 155.50,362.62" fill="none" stroke="#151515" stroke-width="1.5"/>
<line x1="80.7" y1="354.865" x2="80.7" y2="363.68500000000006" stroke="#151515" stroke-width="0.9" />
<line x1="78.8" y1="354.865" x2="82.60000000000001" y2="354.865" stroke="#151515" stroke-width="0.9" />
<line x1="78.8" y1="363.68500000000006" x2="82.60000000000001" y2="363.68500000000006" stroke="#151515" stroke-width="0.9" />
<circle cx="80.70" cy="359.28" r="1.6" fill="#151515"/>
<line x1="99.4" y1="356.33500000000004" x2="99.4" y2="362.21500000000003" stroke="#151515" stroke-width="0.9" />
<line x1="97.5" y1="356.33500000000004" x2="101.30000000000001" y2="356.33500000000004" stroke="#151515" stroke-width="0.9" />
<line x1="97.5" y1="362.21500000000003" x2="101.30000000000001" y2="362.21500000000003" stroke="#151515" stroke-width="0.9" />
<circle cx="99.40" cy="359.28" r="1.6" fill="#151515"/>
<line x1="118.1" y1="356.33500000000004" x2="118.1" y2="362.21500000000003" stroke="#151515" stroke-width="0.9" />
<line x1="116.19999999999999" y1="356.33500000000004" x2="120.0" y2="356.33500000000004" stroke="#151515" stroke-width="0.9" />
<line x1="116.19999999999999" y1="362.21500000000003" x2="120.0" y2="362.21500000000003" stroke="#151515" stroke-width="0.9" />
<circle cx="118.10" cy="359.28" r="1.6" fill="#151515"/>
<line x1="136.8" y1="357.07" x2="136.8" y2="362.95" stroke="#151515" stroke-width="0.9" />
<line x1="134.9" y1="357.07" x2="138.70000000000002" y2="357.07" stroke="#151515" stroke-width="0.9" />
<line x1="134.9" y1="362.95" x2="138.70000000000002" y2="362.95" stroke="#151515" stroke-width="0.9" />
<circle cx="136.80" cy="360.01" r="1.6" fill="#151515"/>
<line x1="155.5" y1="361.47999999999996" x2="155.5" y2="364.42" stroke="#151515" stroke-width="0.9" />
<line x1="153.6" y1="361.47999999999996" x2="157.4" y2="361.47999999999996" stroke="#151515" stroke-width="0.9" />
<line x1="153.6" y1="364.42" x2="157.4" y2="364.42" stroke="#151515" stroke-width="0.9" />
<circle cx="155.50" cy="362.95" r="1.6" fill="#151515"/>
<line x1="138.8" y1="304.0" x2="147.3" y2="304.0" stroke="#151515" stroke-width="0.9" />
<circle cx="143.05" cy="304.0" r="1.4" fill="#151515"/>
<text x="152" y="306.3" font-size="7.15" fill="#111">Elacestrant</text>
<line x1="138.8" y1="312.2" x2="147.3" y2="312.2" stroke="#1b9a58" stroke-width="0.9" />
<rect x="141.75" y="310.9" width="2.6" height="2.6" fill="#1b9a58" />
<text x="152" y="314.5" font-size="7.15" fill="#111" textLength="98.5" lengthAdjust="spacingAndGlyphs">Elacestrant + E2 (0.01 nmol/L)</text>
<line x1="138.8" y1="320.3" x2="147.3" y2="320.3" stroke="#4a4a4a" stroke-width="0.9" />
<polygon points="141.75,321.40000000000003 144.35000000000002,321.40000000000003 143.05,319.0" fill="#4a4a4a"/>
<text x="152" y="322.6" font-size="7.15" fill="#111">Elacestrant + E2 (1 nmol/L)</text>
<rect x="29.3" y="393.8" width="183.2" height="23.19999999999999" fill="#fff" stroke="#555" stroke-width="0.9" />
<text x="38.8" y="403.1" font-size="6.3" fill="#22a55c" textLength="87.5" lengthAdjust="spacingAndGlyphs">Elacestrant + E2 (0.01 nmol/L)</text>
<line x1="47.8" y1="405.1" x2="127.8" y2="405.1" stroke="#22a55c" stroke-width="0.7" />
<text x="132" y="403.1" font-size="6.3" fill="#777" textLength="76.80000000000001" lengthAdjust="spacingAndGlyphs">Elacestrant + E2 (1 nmol/L)</text>
<line x1="138" y1="405.1" x2="209.8" y2="405.1" stroke="#777" stroke-width="0.6" />
<text x="32" y="413.8" font-size="7.15" fill="#111">IC<tspan font-size="4.8" dy="1.6">50</tspan></text>
<text x="72.5" y="413.8" font-size="7.15" fill="#111" textLength="37.5" lengthAdjust="spacingAndGlyphs">1.358e–009</text>
<text x="154.5" y="413.8" font-size="7.15" fill="#111" textLength="38.0" lengthAdjust="spacingAndGlyphs">8.696e–008</text>
<text x="383" y="282.5" font-size="9.9" font-weight="bold" text-anchor="middle" fill="#111">T47D</text>
<line x1="307.5" y1="296.5" x2="307.5" y2="371.5" stroke="#222" stroke-width="1.2" />
<line x1="306.9" y1="370.9" x2="419.7" y2="370.9" stroke="#222" stroke-width="1.2" />
<line x1="304.7" y1="297.0" x2="307.5" y2="297.0" stroke="#222" stroke-width="0.8" />
<text x="303.2" y="299.5" font-size="7.15" text-anchor="end" fill="#111">300</text>
<line x1="304.7" y1="315.0" x2="307.5" y2="315.0" stroke="#222" stroke-width="0.8" />
<text x="303.2" y="317.5" font-size="7.15" text-anchor="end" fill="#111">250</text>
<line x1="304.7" y1="333.0" x2="307.5" y2="333.0" stroke="#222" stroke-width="0.8" />
<text x="303.2" y="335.5" font-size="7.15" text-anchor="end" fill="#111">200</text>
<line x1="304.7" y1="351.0" x2="307.5" y2="351.0" stroke="#222" stroke-width="0.8" />
<text x="303.2" y="353.5" font-size="7.15" text-anchor="end" fill="#111">150</text>
<line x1="304.7" y1="369.0" x2="307.5" y2="369.0" stroke="#222" stroke-width="0.8" />
<text x="303.2" y="371.5" font-size="7.15" text-anchor="end" fill="#111">100</text>
<line x1="307.5" y1="370.9" x2="307.5" y2="373.7" stroke="#222" stroke-width="0.8" />
<text x="305.5" y="379.5" font-size="7.15" text-anchor="middle" fill="#111">-11</text>
<line x1="326.1" y1="370.9" x2="326.1" y2="373.7" stroke="#222" stroke-width="0.8" />
<text x="325.1" y="379.5" font-size="7.15" text-anchor="middle" fill="#111">-10</text>
<line x1="344.7" y1="370.9" x2="344.7" y2="373.7" stroke="#222" stroke-width="0.8" />
<text x="343.7" y="379.5" font-size="7.15" text-anchor="middle" fill="#111">-9</text>
<line x1="363.3" y1="370.9" x2="363.3" y2="373.7" stroke="#222" stroke-width="0.8" />
<text x="362.3" y="379.5" font-size="7.15" text-anchor="middle" fill="#111">-8</text>
<line x1="381.9" y1="370.9" x2="381.9" y2="373.7" stroke="#222" stroke-width="0.8" />
<text x="380.9" y="379.5" font-size="7.15" text-anchor="middle" fill="#111">-7</text>
<line x1="400.5" y1="370.9" x2="400.5" y2="373.7" stroke="#222" stroke-width="0.8" />
<text x="399.5" y="379.5" font-size="7.15" text-anchor="middle" fill="#111">-6</text>
<line x1="419.1" y1="370.9" x2="419.1" y2="373.7" stroke="#222" stroke-width="0.8" />
<text x="418.1" y="379.5" font-size="7.15" text-anchor="middle" fill="#111">-5</text>
<text x="320.5" y="388.1" font-size="7.2" font-weight="bold" fill="#111" textLength="93.30000000000001" lengthAdjust="spacingAndGlyphs">Log [concentration (mol/L)]</text>
<text x="275.7" y="333" font-size="6.7" font-weight="bold" text-anchor="middle" fill="#111" transform="rotate(-90 275.7 333)">% Control</text>
<text x="283.4" y="333" font-size="6.7" font-weight="bold" text-anchor="middle" fill="#111" transform="rotate(-90 283.4 333)">mean ± SD</text>
<polyline points="326.10,315.04 327.34,315.05 328.58,315.06 329.82,315.07 331.06,315.09 332.30,315.10 333.54,315.13 334.78,315.16 336.02,315.19 337.26,315.23 338.50,315.28 339.74,315.35 340.98,315.42 342.22,315.51 343.46,315.63 344.70,315.76 345.94,315.93 347.18,316.13 348.42,316.37 349.66,316.66 350.90,317.02 352.14,317.44 353.38,317.95 354.62,318.55 355.86,319.27 357.10,320.12 358.34,321.12 359.58,322.28 360.82,323.61 362.06,325.14 363.30,326.86 364.54,328.77 365.78,330.87 367.02,333.13 368.26,335.53 369.50,338.02 370.74,340.56 371.98,343.10 373.22,345.59 374.46,347.99 375.70,350.25 376.94,352.35 378.18,354.26 379.42,355.98 380.66,357.51 381.90,358.84 383.14,360.00 384.38,361.00 385.62,361.85 386.86,362.57 388.10,363.17 389.34,363.68 390.58,364.10 391.82,364.46 393.06,364.75 394.30,364.99 395.54,365.19 396.78,365.36 398.02,365.49 399.26,365.61 400.50,365.70" fill="none" stroke="#4a4a4a" stroke-width="1.2"/>
<line x1="326.1" y1="312.84000000000003" x2="326.1" y2="318.6" stroke="#4a4a4a" stroke-width="0.9" />
<line x1="324.20000000000005" y1="312.84000000000003" x2="328.0" y2="312.84000000000003" stroke="#4a4a4a" stroke-width="0.9" />
<line x1="324.20000000000005" y1="318.6" x2="328.0" y2="318.6" stroke="#4a4a4a" stroke-width="0.9" />
<polygon points="324.80,316.82 327.40,316.82 326.10,314.42" fill="#4a4a4a"/>
<line x1="344.7" y1="313.91999999999996" x2="344.7" y2="321.12" stroke="#4a4a4a" stroke-width="0.9" />
<line x1="342.8" y1="313.91999999999996" x2="346.59999999999997" y2="313.91999999999996" stroke="#4a4a4a" stroke-width="0.9" />
<line x1="342.8" y1="321.12" x2="346.59999999999997" y2="321.12" stroke="#4a4a4a" stroke-width="0.9" />
<polygon points="343.40,318.62 346.00,318.62 344.70,316.22" fill="#4a4a4a"/>
<line x1="363.3" y1="323.28" x2="363.3" y2="333.36" stroke="#4a4a4a" stroke-width="0.9" />
<line x1="361.40000000000003" y1="323.28" x2="365.2" y2="323.28" stroke="#4a4a4a" stroke-width="0.9" />
<line x1="361.40000000000003" y1="333.36" x2="365.2" y2="333.36" stroke="#4a4a4a" stroke-width="0.9" />
<polygon points="362.00,329.42 364.60,329.42 363.30,327.02" fill="#4a4a4a"/>
<line x1="381.9" y1="358.2" x2="381.9" y2="361.8" stroke="#4a4a4a" stroke-width="0.9" />
<line x1="380.0" y1="358.2" x2="383.79999999999995" y2="358.2" stroke="#4a4a4a" stroke-width="0.9" />
<line x1="380.0" y1="361.8" x2="383.79999999999995" y2="361.8" stroke="#4a4a4a" stroke-width="0.9" />
<polygon points="380.60,361.10 383.20,361.10 381.90,358.70" fill="#4a4a4a"/>
<line x1="400.5" y1="361.8" x2="400.5" y2="367.56" stroke="#4a4a4a" stroke-width="0.9" />
<line x1="398.6" y1="361.8" x2="402.4" y2="361.8" stroke="#4a4a4a" stroke-width="0.9" />
<line x1="398.6" y1="367.56" x2="402.4" y2="367.56" stroke="#4a4a4a" stroke-width="0.9" />
<polygon points="399.20,365.78 401.80,365.78 400.50,363.38" fill="#4a4a4a"/>
<polyline points="326.10,345.58 327.34,346.37 328.58,347.21 329.82,348.11 331.06,349.06 332.30,350.06 333.54,351.08 334.78,352.12 336.02,353.17 337.26,354.21 338.50,355.24 339.74,356.24 340.98,357.20 342.22,358.12 343.46,358.99 344.70,359.79 345.94,360.54 347.18,361.22 348.42,361.84 349.66,362.40 350.90,362.91 352.14,363.36 353.38,363.76 354.62,364.11 355.86,364.42 357.10,364.70 358.34,364.94 359.58,365.15 360.82,365.33 362.06,365.49 363.30,365.62 364.54,365.74 365.78,365.84 367.02,365.93 368.26,366.01 369.50,366.08 370.74,366.13 371.98,366.18 373.22,366.22 374.46,366.26 375.70,366.29 376.94,366.32 378.18,366.34 379.42,366.36 380.66,366.38 381.90,366.39 383.14,366.40 384.38,366.42 385.62,366.42 386.86,366.43 388.10,366.44 389.34,366.44 390.58,366.45 391.82,366.45 393.06,366.46 394.30,366.46 395.54,366.46 396.78,366.47 398.02,366.47 399.26,366.47 400.50,366.47" fill="none" stroke="#1b9a58" stroke-width="1.2"/>
<line x1="326.1" y1="343.44" x2="326.1" y2="347.76000000000005" stroke="#1b9a58" stroke-width="0.9" />
<line x1="324.20000000000005" y1="343.44" x2="328.0" y2="343.44" stroke="#1b9a58" stroke-width="0.9" />
<line x1="324.20000000000005" y1="347.76000000000005" x2="328.0" y2="347.76000000000005" stroke="#1b9a58" stroke-width="0.9" />
<rect x="324.8" y="344.3" width="2.6" height="2.6" fill="#1b9a58" />
<line x1="344.7" y1="358.92" x2="344.7" y2="361.08" stroke="#1b9a58" stroke-width="0.9" />
<line x1="342.8" y1="358.92" x2="346.59999999999997" y2="358.92" stroke="#1b9a58" stroke-width="0.9" />
<line x1="342.8" y1="361.08" x2="346.59999999999997" y2="361.08" stroke="#1b9a58" stroke-width="0.9" />
<rect x="343.4" y="358.7" width="2.6" height="2.6" fill="#1b9a58" />
<line x1="363.3" y1="364.68" x2="363.3" y2="367.56" stroke="#1b9a58" stroke-width="0.9" />
<line x1="361.40000000000003" y1="364.68" x2="365.2" y2="364.68" stroke="#1b9a58" stroke-width="0.9" />
<line x1="361.40000000000003" y1="367.56" x2="365.2" y2="367.56" stroke="#1b9a58" stroke-width="0.9" />
<rect x="362.0" y="364.82" width="2.6" height="2.6" fill="#1b9a58" />
<line x1="381.9" y1="365.04" x2="381.9" y2="367.92" stroke="#1b9a58" stroke-width="0.9" />
<line x1="380.0" y1="365.04" x2="383.79999999999995" y2="365.04" stroke="#1b9a58" stroke-width="0.9" />
<line x1="380.0" y1="367.92" x2="383.79999999999995" y2="367.92" stroke="#1b9a58" stroke-width="0.9" />
<rect x="380.6" y="365.18" width="2.6" height="2.6" fill="#1b9a58" />
<line x1="400.5" y1="364.68" x2="400.5" y2="367.56" stroke="#1b9a58" stroke-width="0.9" />
<line x1="398.6" y1="364.68" x2="402.4" y2="364.68" stroke="#1b9a58" stroke-width="0.9" />
<line x1="398.6" y1="367.56" x2="402.4" y2="367.56" stroke="#1b9a58" stroke-width="0.9" />
<rect x="399.2" y="364.82" width="2.6" height="2.6" fill="#1b9a58" />
<polyline points="326.10,367.17 327.34,367.05 328.58,366.91 329.82,366.74 331.06,366.55 332.30,366.34 333.54,366.12 334.78,365.90 336.02,365.69 337.26,365.50 338.50,365.33 339.74,365.19 340.98,365.07 342.22,364.98 343.46,364.91 344.70,364.85 345.94,364.81 347.18,364.78 348.42,364.75 349.66,364.73 350.90,364.72 352.14,364.71 353.38,364.70 354.62,364.70 355.86,364.69 357.10,364.69 358.34,364.69 359.58,364.68 360.82,364.68 362.06,364.68 363.30,364.68 364.54,364.68 365.78,364.68 367.02,364.68 368.26,364.68 369.50,364.68 370.74,364.68 371.98,364.68 373.22,364.68 374.46,364.68 375.70,364.68 376.94,364.68 378.18,364.68 379.42,364.68 380.66,364.68 381.90,364.68 383.14,364.68 384.38,364.68 385.62,364.68 386.86,364.68 388.10,364.68 389.34,364.68 390.58,364.68 391.82,364.68 393.06,364.68 394.30,364.68 395.54,364.68 396.78,364.68 398.02,364.68 399.26,364.68 400.50,364.68" fill="none" stroke="#151515" stroke-width="1.5"/>
<line x1="326.1" y1="363.59999999999997" x2="326.1" y2="370.8" stroke="#151515" stroke-width="0.9" />
<line x1="324.20000000000005" y1="363.59999999999997" x2="328.0" y2="363.59999999999997" stroke="#151515" stroke-width="0.9" />
<line x1="324.20000000000005" y1="370.8" x2="328.0" y2="370.8" stroke="#151515" stroke-width="0.9" />
<circle cx="326.10" cy="367.20" r="1.6" fill="#151515"/>
<line x1="344.7" y1="363.59999999999997" x2="344.7" y2="365.04" stroke="#151515" stroke-width="0.9" />
<line x1="342.8" y1="363.59999999999997" x2="346.59999999999997" y2="363.59999999999997" stroke="#151515" stroke-width="0.9" />
<line x1="342.8" y1="365.04" x2="346.59999999999997" y2="365.04" stroke="#151515" stroke-width="0.9" />
<circle cx="344.70" cy="364.32" r="1.6" fill="#151515"/>
<line x1="363.3" y1="362.52" x2="363.3" y2="366.84000000000003" stroke="#151515" stroke-width="0.9" />
<line x1="361.40000000000003" y1="362.52" x2="365.2" y2="362.52" stroke="#151515" stroke-width="0.9" />
<line x1="361.40000000000003" y1="366.84000000000003" x2="365.2" y2="366.84000000000003" stroke="#151515" stroke-width="0.9" />
<circle cx="363.30" cy="364.68" r="1.6" fill="#151515"/>
<line x1="381.9" y1="362.52" x2="381.9" y2="366.84000000000003" stroke="#151515" stroke-width="0.9" />
<line x1="380.0" y1="362.52" x2="383.79999999999995" y2="362.52" stroke="#151515" stroke-width="0.9" />
<line x1="380.0" y1="366.84000000000003" x2="383.79999999999995" y2="366.84000000000003" stroke="#151515" stroke-width="0.9" />
<circle cx="381.90" cy="364.68" r="1.6" fill="#151515"/>
<line x1="400.5" y1="361.8" x2="400.5" y2="367.56" stroke="#151515" stroke-width="0.9" />
<line x1="398.6" y1="361.8" x2="402.4" y2="361.8" stroke="#151515" stroke-width="0.9" />
<line x1="398.6" y1="367.56" x2="402.4" y2="367.56" stroke="#151515" stroke-width="0.9" />
<circle cx="400.50" cy="364.68" r="1.6" fill="#151515"/>
<line x1="379.5" y1="305.2" x2="388.0" y2="305.2" stroke="#151515" stroke-width="0.9" />
<circle cx="383.75" cy="305.2" r="1.4" fill="#151515"/>
<text x="392" y="307.5" font-size="7.15" fill="#111">Elacestrant</text>
<line x1="379.5" y1="313.4" x2="388.0" y2="313.4" stroke="#1b9a58" stroke-width="0.9" />
<rect x="382.45" y="312.09999999999997" width="2.6" height="2.6" fill="#1b9a58" />
<text x="392" y="315.7" font-size="7.15" fill="#111" textLength="98.8" lengthAdjust="spacingAndGlyphs">Elacestrant + E2 (0.01 nmol/L)</text>
<line x1="379.5" y1="321.5" x2="388.0" y2="321.5" stroke="#4a4a4a" stroke-width="0.9" />
<polygon points="382.45,322.6 385.05,322.6 383.75,320.2" fill="#4a4a4a"/>
<text x="392" y="323.8" font-size="7.15" fill="#111">Elacestrant + E2 (1 nmol/L)</text>
<rect x="273" y="393.8" width="183.3" height="22.5" fill="#fff" stroke="#555" stroke-width="0.9" />
<text x="284.3" y="403.1" font-size="6.3" fill="#22a55c" textLength="87.0" lengthAdjust="spacingAndGlyphs">Elacestrant + E2 (0.01 nmol/L)</text>
<line x1="293.3" y1="405.1" x2="372.8" y2="405.1" stroke="#22a55c" stroke-width="0.7" />
<text x="376.3" y="403.1" font-size="6.3" fill="#777" textLength="78.19999999999999" lengthAdjust="spacingAndGlyphs">Elacestrant + E2 (1 nmol/L)</text>
<line x1="382.3" y1="405.1" x2="455.5" y2="405.1" stroke="#777" stroke-width="0.6" />
<text x="276.3" y="413.8" font-size="7.15" fill="#111">IC<tspan font-size="4.8" dy="1.6">50</tspan></text>
<text x="316.3" y="413.8" font-size="7.15" fill="#111" textLength="37.5" lengthAdjust="spacingAndGlyphs">3.216e–010</text>
<text x="399.5" y="413.8" font-size="7.15" fill="#111" textLength="37.5" lengthAdjust="spacingAndGlyphs">2.476e–008</text>
<line x1="42" y1="451" x2="233" y2="451" stroke="#1a1a1a" stroke-width="1.4" />
<polygon points="231.5,448.4 238.8,451 231.5,453.6" fill="#1a1a1a"/>
<text x="97" y="446" font-size="7.8" fill="#222" textLength="89" lengthAdjust="spacingAndGlyphs">Estradiol supplementation</text>
<line x1="42" y1="466.3" x2="129" y2="466.3" stroke="#1a1a1a" stroke-width="1.4" />
<polygon points="127.5,463.9 133.3,466.3 127.5,468.7" fill="#1a1a1a"/>
<text x="60.8" y="462.6" font-size="7.8" fill="#222" textLength="58.7" lengthAdjust="spacingAndGlyphs">Treatment period</text>
<line x1="133.75" y1="457.5" x2="133.75" y2="574.5" stroke="#444" stroke-width="0.8" stroke-dasharray="1 1.4"/>
<line x1="42" y1="448.5" x2="42" y2="575.4" stroke="#222" stroke-width="1.2" />
<line x1="41.4" y1="574.8" x2="134.2" y2="574.8" stroke="#222" stroke-width="1.2" />
<line x1="147.6" y1="574.8" x2="240" y2="574.8" stroke="#222" stroke-width="1.2" />
<line x1="39" y1="456.90000000000003" x2="42" y2="456.90000000000003" stroke="#222" stroke-width="0.8" />
<text x="37.5" y="459.4" font-size="7.0" text-anchor="end" fill="#111">1,500</text>
<line x1="39" y1="496.00000000000006" x2="42" y2="496.00000000000006" stroke="#222" stroke-width="0.8" />
<text x="37.5" y="498.5" font-size="7.0" text-anchor="end" fill="#111">1,000</text>
<line x1="39" y1="535.1" x2="42" y2="535.1" stroke="#222" stroke-width="0.8" />
<text x="37.5" y="537.6" font-size="7.0" text-anchor="end" fill="#111">500</text>
<line x1="39" y1="574.2" x2="42" y2="574.2" stroke="#222" stroke-width="0.8" />
<text x="37.5" y="576.0" font-size="7.0" text-anchor="end" fill="#111">0</text>
<line x1="42.0" y1="574.8" x2="42.0" y2="577.6" stroke="#222" stroke-width="0.8" />
<text x="42.0" y="583.7" font-size="7.0" text-anchor="middle" fill="#111">0</text>
<line x1="55.108000000000004" y1="574.8" x2="55.108000000000004" y2="577.6" stroke="#222" stroke-width="0.8" />
<text x="55.11" y="583.7" font-size="7.0" text-anchor="middle" fill="#111">4</text>
<line x1="68.21600000000001" y1="574.8" x2="68.21600000000001" y2="577.6" stroke="#222" stroke-width="0.8" />
<text x="68.22" y="583.7" font-size="7.0" text-anchor="middle" fill="#111">8</text>
<line x1="81.324" y1="574.8" x2="81.324" y2="577.6" stroke="#222" stroke-width="0.8" />
<text x="81.32" y="583.7" font-size="7.0" text-anchor="middle" fill="#111">12</text>
<line x1="94.432" y1="574.8" x2="94.432" y2="577.6" stroke="#222" stroke-width="0.8" />
<text x="94.43" y="583.7" font-size="7.0" text-anchor="middle" fill="#111">16</text>
<line x1="107.54" y1="574.8" x2="107.54" y2="577.6" stroke="#222" stroke-width="0.8" />
<text x="107.54" y="583.7" font-size="7.0" text-anchor="middle" fill="#111">20</text>
<line x1="120.648" y1="574.8" x2="120.648" y2="577.6" stroke="#222" stroke-width="0.8" />
<text x="120.65" y="583.7" font-size="7.0" text-anchor="middle" fill="#111">24</text>
<line x1="133.756" y1="574.8" x2="133.756" y2="577.6" stroke="#222" stroke-width="0.8" />
<text x="133.76" y="583.7" font-size="7.0" text-anchor="middle" fill="#111">28</text>
<line x1="148.0" y1="574.8" x2="148.0" y2="577.6" stroke="#222" stroke-width="0.8" />
<text x="148.0" y="583.7" font-size="7.0" text-anchor="middle" fill="#111">28</text>
<line x1="161.08" y1="574.8" x2="161.08" y2="577.6" stroke="#222" stroke-width="0.8" />
<text x="161.08" y="583.7" font-size="7.0" text-anchor="middle" fill="#111">32</text>
<line x1="174.16" y1="574.8" x2="174.16" y2="577.6" stroke="#222" stroke-width="0.8" />
<text x="174.16" y="583.7" font-size="7.0" text-anchor="middle" fill="#111">36</text>
<line x1="187.24" y1="574.8" x2="187.24" y2="577.6" stroke="#222" stroke-width="0.8" />
<text x="187.24" y="583.7" font-size="7.0" text-anchor="middle" fill="#111">40</text>
<line x1="200.32" y1="574.8" x2="200.32" y2="577.6" stroke="#222" stroke-width="0.8" />
<text x="200.32" y="583.7" font-size="7.0" text-anchor="middle" fill="#111">44</text>
<line x1="213.4" y1="574.8" x2="213.4" y2="577.6" stroke="#222" stroke-width="0.8" />
<text x="213.4" y="583.7" font-size="7.0" text-anchor="middle" fill="#111">48</text>
<line x1="226.48000000000002" y1="574.8" x2="226.48000000000002" y2="577.6" stroke="#222" stroke-width="0.8" />
<text x="226.48" y="583.7" font-size="7.0" text-anchor="middle" fill="#111">52</text>
<line x1="239.56" y1="574.8" x2="239.56" y2="577.6" stroke="#222" stroke-width="0.8" />
<text x="239.56" y="583.7" font-size="7.0" text-anchor="middle" fill="#111">56</text>
<text x="142.5" y="591.2" font-size="7.2" font-weight="bold" text-anchor="middle" fill="#111">Days</text>
<text x="18.1" y="515.3" font-size="7" font-weight="bold" text-anchor="middle" fill="#111" transform="rotate(-90 18.1 515.3)" textLength="70" lengthAdjust="spacingAndGlyphs">Tumor volume (mm<tspan font-size="4.5" dy="-2.5">3</tspan><tspan dy="2.5">)</tspan></text>
<polyline points="42.00,562.47 51.83,560.52 64.94,557.39 74.77,558.56 87.88,557.78 97.71,559.34 110.82,557.39 120.65,554.26 133.76,555.04" fill="none" stroke="#e5348f" stroke-width="1"/>
<polygon points="40.50,563.67 43.50,563.67 42.00,560.97" fill="#e5348f"/>
<line x1="51.831" y1="559.3420000000001" x2="51.831" y2="561.6880000000001" stroke="#e5348f" stroke-width="0.95" />
<line x1="50.031000000000006" y1="559.3420000000001" x2="53.631" y2="559.3420000000001" stroke="#e5348f" stroke-width="0.95" />
<line x1="50.031000000000006" y1="561.6880000000001" x2="53.631" y2="561.6880000000001" stroke="#e5348f" stroke-width="0.95" />
<polygon points="50.33,561.72 53.33,561.72 51.83,559.02" fill="#e5348f"/>
<line x1="64.939" y1="555.6666" x2="64.939" y2="559.1074000000001" stroke="#e5348f" stroke-width="0.95" />
<line x1="63.138999999999996" y1="555.6666" x2="66.73899999999999" y2="555.6666" stroke="#e5348f" stroke-width="0.95" />
<line x1="63.138999999999996" y1="559.1074000000001" x2="66.73899999999999" y2="559.1074000000001" stroke="#e5348f" stroke-width="0.95" />
<polygon points="63.44,558.59 66.44,558.59 64.94,555.89" fill="#e5348f"/>
<line x1="74.77000000000001" y1="556.9960000000001" x2="74.77000000000001" y2="560.124" stroke="#e5348f" stroke-width="0.95" />
<line x1="72.97000000000001" y1="556.9960000000001" x2="76.57000000000001" y2="556.9960000000001" stroke="#e5348f" stroke-width="0.95" />
<line x1="72.97000000000001" y1="560.124" x2="76.57000000000001" y2="560.124" stroke="#e5348f" stroke-width="0.95" />
<polygon points="73.27,559.76 76.27,559.76 74.77,557.06" fill="#e5348f"/>
<line x1="87.878" y1="555.823" x2="87.878" y2="559.7330000000001" stroke="#e5348f" stroke-width="0.95" />
<line x1="86.078" y1="555.823" x2="89.678" y2="555.823" stroke="#e5348f" stroke-width="0.95" />
<line x1="86.078" y1="559.7330000000001" x2="89.678" y2="559.7330000000001" stroke="#e5348f" stroke-width="0.95" />
<polygon points="86.38,558.98 89.38,558.98 87.88,556.28" fill="#e5348f"/>
<line x1="97.709" y1="557.3870000000001" x2="97.709" y2="561.2970000000001" stroke="#e5348f" stroke-width="0.95" />
<line x1="95.909" y1="557.3870000000001" x2="99.509" y2="557.3870000000001" stroke="#e5348f" stroke-width="0.95" />
<line x1="95.909" y1="561.2970000000001" x2="99.509" y2="561.2970000000001" stroke="#e5348f" stroke-width="0.95" />
<polygon points="96.21,560.54 99.21,560.54 97.71,557.84" fill="#e5348f"/>
<line x1="110.81700000000001" y1="554.259" x2="110.81700000000001" y2="560.5150000000001" stroke="#e5348f" stroke-width="0.95" />
<line x1="109.01700000000001" y1="554.259" x2="112.617" y2="554.259" stroke="#e5348f" stroke-width="0.95" />
<line x1="109.01700000000001" y1="560.5150000000001" x2="112.617" y2="560.5150000000001" stroke="#e5348f" stroke-width="0.95" />
<polygon points="109.32,558.59 112.32,558.59 110.82,555.89" fill="#e5348f"/>
<line x1="120.648" y1="549.958" x2="120.648" y2="558.5600000000001" stroke="#e5348f" stroke-width="0.95" />
<line x1="118.848" y1="549.958" x2="122.448" y2="549.958" stroke="#e5348f" stroke-width="0.95" />
<line x1="118.848" y1="558.5600000000001" x2="122.448" y2="558.5600000000001" stroke="#e5348f" stroke-width="0.95" />
<polygon points="119.15,555.46 122.15,555.46 120.65,552.76" fill="#e5348f"/>
<line x1="133.756" y1="551.1310000000001" x2="133.756" y2="558.951" stroke="#e5348f" stroke-width="0.95" />
<line x1="131.956" y1="551.1310000000001" x2="135.556" y2="551.1310000000001" stroke="#e5348f" stroke-width="0.95" />
<line x1="131.956" y1="558.951" x2="135.556" y2="558.951" stroke="#e5348f" stroke-width="0.95" />
<polygon points="132.26,556.24 135.26,556.24 133.76,553.54" fill="#e5348f"/>
<polyline points="42.00,562.47 51.83,562.47 64.94,564.82 74.77,565.21 87.88,563.64 97.71,564.82 110.82,564.03 120.65,563.25 133.76,563.64" fill="none" stroke="#4cc35b" stroke-width="1"/>
<rect x="40.6" y="561.07" width="2.8" height="2.8" fill="#4cc35b" />
<line x1="51.831" y1="561.5316" x2="51.831" y2="563.4084" stroke="#4cc35b" stroke-width="0.95" />
<line x1="50.031000000000006" y1="561.5316" x2="53.631" y2="561.5316" stroke="#4cc35b" stroke-width="0.95" />
<line x1="50.031000000000006" y1="563.4084" x2="53.631" y2="563.4084" stroke="#4cc35b" stroke-width="0.95" />
<rect x="50.43" y="561.07" width="2.8" height="2.8" fill="#4cc35b" />
<line x1="64.939" y1="563.4084" x2="64.939" y2="566.2236" stroke="#4cc35b" stroke-width="0.95" />
<line x1="63.138999999999996" y1="563.4084" x2="66.73899999999999" y2="563.4084" stroke="#4cc35b" stroke-width="0.95" />
<line x1="63.138999999999996" y1="566.2236" x2="66.73899999999999" y2="566.2236" stroke="#4cc35b" stroke-width="0.95" />
<rect x="63.54" y="563.42" width="2.8" height="2.8" fill="#4cc35b" />
<line x1="74.77000000000001" y1="563.7994" x2="74.77000000000001" y2="566.6146" stroke="#4cc35b" stroke-width="0.95" />
<line x1="72.97000000000001" y1="563.7994" x2="76.57000000000001" y2="563.7994" stroke="#4cc35b" stroke-width="0.95" />
<line x1="72.97000000000001" y1="566.6146" x2="76.57000000000001" y2="566.6146" stroke="#4cc35b" stroke-width="0.95" />
<rect x="73.37" y="563.81" width="2.8" height="2.8" fill="#4cc35b" />
<line x1="87.878" y1="562.47" x2="87.878" y2="564.816" stroke="#4cc35b" stroke-width="0.95" />
<line x1="86.078" y1="562.47" x2="89.678" y2="562.47" stroke="#4cc35b" stroke-width="0.95" />
<line x1="86.078" y1="564.816" x2="89.678" y2="564.816" stroke="#4cc35b" stroke-width="0.95" />
<rect x="86.48" y="562.24" width="2.8" height="2.8" fill="#4cc35b" />
<line x1="97.709" y1="563.4084" x2="97.709" y2="566.2236" stroke="#4cc35b" stroke-width="0.95" />
<line x1="95.909" y1="563.4084" x2="99.509" y2="563.4084" stroke="#4cc35b" stroke-width="0.95" />
<line x1="95.909" y1="566.2236" x2="99.509" y2="566.2236" stroke="#4cc35b" stroke-width="0.95" />
<rect x="96.31" y="563.42" width="2.8" height="2.8" fill="#4cc35b" />
<line x1="110.81700000000001" y1="562.6264" x2="110.81700000000001" y2="565.4416" stroke="#4cc35b" stroke-width="0.95" />
<line x1="109.01700000000001" y1="562.6264" x2="112.617" y2="562.6264" stroke="#4cc35b" stroke-width="0.95" />
<line x1="109.01700000000001" y1="565.4416" x2="112.617" y2="565.4416" stroke="#4cc35b" stroke-width="0.95" />
<rect x="109.42" y="562.63" width="2.8" height="2.8" fill="#4cc35b" />
<line x1="120.648" y1="561.5316" x2="120.648" y2="564.9724000000001" stroke="#4cc35b" stroke-width="0.95" />
<line x1="118.848" y1="561.5316" x2="122.448" y2="561.5316" stroke="#4cc35b" stroke-width="0.95" />
<line x1="118.848" y1="564.9724000000001" x2="122.448" y2="564.9724000000001" stroke="#4cc35b" stroke-width="0.95" />
<rect x="119.25" y="561.85" width="2.8" height="2.8" fill="#4cc35b" />
<line x1="133.756" y1="561.9226" x2="133.756" y2="565.3634000000001" stroke="#4cc35b" stroke-width="0.95" />
<line x1="131.956" y1="561.9226" x2="135.556" y2="561.9226" stroke="#4cc35b" stroke-width="0.95" />
<line x1="131.956" y1="565.3634000000001" x2="135.556" y2="565.3634000000001" stroke="#4cc35b" stroke-width="0.95" />
<rect x="132.36" y="562.24" width="2.8" height="2.8" fill="#4cc35b" />
<polyline points="42.00,562.47 51.83,561.69 64.94,564.43 74.77,564.03 87.88,562.86 97.71,564.03 110.82,564.82 120.65,565.60 133.76,565.99" fill="none" stroke="#1f9345" stroke-width="1"/>
<polygon points="40.50,561.27 43.50,561.27 42.00,563.97" fill="#1f9345"/>
<line x1="51.831" y1="560.7496000000001" x2="51.831" y2="562.6264000000001" stroke="#1f9345" stroke-width="0.95" />
<line x1="50.031000000000006" y1="560.7496000000001" x2="53.631" y2="560.7496000000001" stroke="#1f9345" stroke-width="0.95" />
<line x1="50.031000000000006" y1="562.6264000000001" x2="53.631" y2="562.6264000000001" stroke="#1f9345" stroke-width="0.95" />
<polygon points="50.33,560.49 53.33,560.49 51.83,563.19" fill="#1f9345"/>
<line x1="64.939" y1="563.0174000000001" x2="64.939" y2="565.8326000000001" stroke="#1f9345" stroke-width="0.95" />
<line x1="63.138999999999996" y1="563.0174000000001" x2="66.73899999999999" y2="563.0174000000001" stroke="#1f9345" stroke-width="0.95" />
<line x1="63.138999999999996" y1="565.8326000000001" x2="66.73899999999999" y2="565.8326000000001" stroke="#1f9345" stroke-width="0.95" />
<polygon points="63.44,563.23 66.44,563.23 64.94,565.93" fill="#1f9345"/>
<line x1="74.77000000000001" y1="562.6264" x2="74.77000000000001" y2="565.4416" stroke="#1f9345" stroke-width="0.95" />
<line x1="72.97000000000001" y1="562.6264" x2="76.57000000000001" y2="562.6264" stroke="#1f9345" stroke-width="0.95" />
<line x1="72.97000000000001" y1="565.4416" x2="76.57000000000001" y2="565.4416" stroke="#1f9345" stroke-width="0.95" />
<polygon points="73.27,562.83 76.27,562.83 74.77,565.53" fill="#1f9345"/>
<line x1="87.878" y1="561.688" x2="87.878" y2="564.034" stroke="#1f9345" stroke-width="0.95" />
<line x1="86.078" y1="561.688" x2="89.678" y2="561.688" stroke="#1f9345" stroke-width="0.95" />
<line x1="86.078" y1="564.034" x2="89.678" y2="564.034" stroke="#1f9345" stroke-width="0.95" />
<polygon points="86.38,561.66 89.38,561.66 87.88,564.36" fill="#1f9345"/>
<line x1="97.709" y1="562.6264" x2="97.709" y2="565.4416" stroke="#1f9345" stroke-width="0.95" />
<line x1="95.909" y1="562.6264" x2="99.509" y2="562.6264" stroke="#1f9345" stroke-width="0.95" />
<line x1="95.909" y1="565.4416" x2="99.509" y2="565.4416" stroke="#1f9345" stroke-width="0.95" />
<polygon points="96.21,562.83 99.21,562.83 97.71,565.53" fill="#1f9345"/>
<line x1="110.81700000000001" y1="563.4084" x2="110.81700000000001" y2="566.2236" stroke="#1f9345" stroke-width="0.95" />
<line x1="109.01700000000001" y1="563.4084" x2="112.617" y2="563.4084" stroke="#1f9345" stroke-width="0.95" />
<line x1="109.01700000000001" y1="566.2236" x2="112.617" y2="566.2236" stroke="#1f9345" stroke-width="0.95" />
<polygon points="109.32,563.62 112.32,563.62 110.82,566.32" fill="#1f9345"/>
<line x1="120.648" y1="563.8776" x2="120.648" y2="567.3184000000001" stroke="#1f9345" stroke-width="0.95" />
<line x1="118.848" y1="563.8776" x2="122.448" y2="563.8776" stroke="#1f9345" stroke-width="0.95" />
<line x1="118.848" y1="567.3184000000001" x2="122.448" y2="567.3184000000001" stroke="#1f9345" stroke-width="0.95" />
<polygon points="119.15,564.40 122.15,564.40 120.65,567.10" fill="#1f9345"/>
<line x1="133.756" y1="564.2686" x2="133.756" y2="567.7094000000001" stroke="#1f9345" stroke-width="0.95" />
<line x1="131.956" y1="564.2686" x2="135.556" y2="564.2686" stroke="#1f9345" stroke-width="0.95" />
<line x1="131.956" y1="567.7094000000001" x2="135.556" y2="567.7094000000001" stroke="#1f9345" stroke-width="0.95" />
<polygon points="132.26,564.79 135.26,564.79 133.76,567.49" fill="#1f9345"/>
<polyline points="42.00,562.47 51.83,556.61 64.94,549.96 74.77,542.92 87.88,535.10 97.71,528.06 110.82,514.77 120.65,503.04 133.76,485.83" fill="none" stroke="#111" stroke-width="1.3"/>
<circle cx="42.00" cy="562.47" r="1.7" fill="#111"/>
<line x1="51.831" y1="554.65" x2="51.831" y2="558.5600000000001" stroke="#111" stroke-width="0.95" />
<line x1="50.031000000000006" y1="554.65" x2="53.631" y2="554.65" stroke="#111" stroke-width="0.95" />
<line x1="50.031000000000006" y1="558.5600000000001" x2="53.631" y2="558.5600000000001" stroke="#111" stroke-width="0.95" />
<circle cx="51.83" cy="556.61" r="1.7" fill="#111"/>
<line x1="64.939" y1="547.2210000000001" x2="64.939" y2="552.695" stroke="#111" stroke-width="0.95" />
<line x1="63.138999999999996" y1="547.2210000000001" x2="66.73899999999999" y2="547.2210000000001" stroke="#111" stroke-width="0.95" />
<line x1="63.138999999999996" y1="552.695" x2="66.73899999999999" y2="552.695" stroke="#111" stroke-width="0.95" />
<circle cx="64.94" cy="549.96" r="1.7" fill="#111"/>
<line x1="74.77000000000001" y1="538.2280000000001" x2="74.77000000000001" y2="547.6120000000001" stroke="#111" stroke-width="0.95" />
<line x1="72.97000000000001" y1="538.2280000000001" x2="76.57000000000001" y2="538.2280000000001" stroke="#111" stroke-width="0.95" />
<line x1="72.97000000000001" y1="547.6120000000001" x2="76.57000000000001" y2="547.6120000000001" stroke="#111" stroke-width="0.95" />
<circle cx="74.77" cy="542.92" r="1.7" fill="#111"/>
<line x1="87.878" y1="528.453" x2="87.878" y2="541.7470000000001" stroke="#111" stroke-width="0.95" />
<line x1="86.078" y1="528.453" x2="89.678" y2="528.453" stroke="#111" stroke-width="0.95" />
<line x1="86.078" y1="541.7470000000001" x2="89.678" y2="541.7470000000001" stroke="#111" stroke-width="0.95" />
<circle cx="87.88" cy="535.10" r="1.7" fill="#111"/>
<line x1="97.709" y1="520.242" x2="97.709" y2="535.8820000000001" stroke="#111" stroke-width="0.95" />
<line x1="95.909" y1="520.242" x2="99.509" y2="520.242" stroke="#111" stroke-width="0.95" />
<line x1="95.909" y1="535.8820000000001" x2="99.509" y2="535.8820000000001" stroke="#111" stroke-width="0.95" />
<circle cx="97.71" cy="528.06" r="1.7" fill="#111"/>
<line x1="110.81700000000001" y1="503.038" x2="110.81700000000001" y2="526.498" stroke="#111" stroke-width="0.95" />
<line x1="109.01700000000001" y1="503.038" x2="112.617" y2="503.038" stroke="#111" stroke-width="0.95" />
<line x1="109.01700000000001" y1="526.498" x2="112.617" y2="526.498" stroke="#111" stroke-width="0.95" />
<circle cx="110.82" cy="514.77" r="1.7" fill="#111"/>
<line x1="120.648" y1="488.962" x2="120.648" y2="517.114" stroke="#111" stroke-width="0.95" />
<line x1="118.848" y1="488.962" x2="122.448" y2="488.962" stroke="#111" stroke-width="0.95" />
<line x1="118.848" y1="517.114" x2="122.448" y2="517.114" stroke="#111" stroke-width="0.95" />
<circle cx="120.65" cy="503.04" r="1.7" fill="#111"/>
<line x1="133.756" y1="467.84800000000007" x2="133.756" y2="503.82000000000005" stroke="#111" stroke-width="0.95" />
<line x1="131.956" y1="467.84800000000007" x2="135.556" y2="467.84800000000007" stroke="#111" stroke-width="0.95" />
<line x1="131.956" y1="503.82000000000005" x2="135.556" y2="503.82000000000005" stroke="#111" stroke-width="0.95" />
<circle cx="133.76" cy="485.83" r="1.7" fill="#111"/>
<polyline points="148.00,563.64 157.81,564.43 170.89,565.21 180.70,564.43 193.78,564.43 203.59,563.25 216.67,564.82 226.48,564.43 239.56,565.60" fill="none" stroke="#e5348f" stroke-width="1"/>
<line x1="148.0" y1="562.47" x2="148.0" y2="564.816" stroke="#e5348f" stroke-width="0.95" />
<line x1="146.2" y1="562.47" x2="149.8" y2="562.47" stroke="#e5348f" stroke-width="0.95" />
<line x1="146.2" y1="564.816" x2="149.8" y2="564.816" stroke="#e5348f" stroke-width="0.95" />
<polygon points="146.50,564.84 149.50,564.84 148.00,562.14" fill="#e5348f"/>
<line x1="157.81" y1="563.2520000000001" x2="157.81" y2="565.5980000000001" stroke="#e5348f" stroke-width="0.95" />
<line x1="156.01" y1="563.2520000000001" x2="159.61" y2="563.2520000000001" stroke="#e5348f" stroke-width="0.95" />
<line x1="156.01" y1="565.5980000000001" x2="159.61" y2="565.5980000000001" stroke="#e5348f" stroke-width="0.95" />
<polygon points="156.31,565.63 159.31,565.63 157.81,562.93" fill="#e5348f"/>
<line x1="170.89" y1="564.034" x2="170.89" y2="566.38" stroke="#e5348f" stroke-width="0.95" />
<line x1="169.08999999999997" y1="564.034" x2="172.69" y2="564.034" stroke="#e5348f" stroke-width="0.95" />
<line x1="169.08999999999997" y1="566.38" x2="172.69" y2="566.38" stroke="#e5348f" stroke-width="0.95" />
<polygon points="169.39,566.41 172.39,566.41 170.89,563.71" fill="#e5348f"/>
<line x1="180.7" y1="563.2520000000001" x2="180.7" y2="565.5980000000001" stroke="#e5348f" stroke-width="0.95" />
<line x1="178.89999999999998" y1="563.2520000000001" x2="182.5" y2="563.2520000000001" stroke="#e5348f" stroke-width="0.95" />
<line x1="178.89999999999998" y1="565.5980000000001" x2="182.5" y2="565.5980000000001" stroke="#e5348f" stroke-width="0.95" />
<polygon points="179.20,565.63 182.20,565.63 180.70,562.93" fill="#e5348f"/>
<line x1="193.78" y1="563.2520000000001" x2="193.78" y2="565.5980000000001" stroke="#e5348f" stroke-width="0.95" />
<line x1="191.98" y1="563.2520000000001" x2="195.58" y2="563.2520000000001" stroke="#e5348f" stroke-width="0.95" />
<line x1="191.98" y1="565.5980000000001" x2="195.58" y2="565.5980000000001" stroke="#e5348f" stroke-width="0.95" />
<polygon points="192.28,565.63 195.28,565.63 193.78,562.93" fill="#e5348f"/>
<line x1="203.59" y1="562.0790000000001" x2="203.59" y2="564.4250000000001" stroke="#e5348f" stroke-width="0.95" />
<line x1="201.79" y1="562.0790000000001" x2="205.39000000000001" y2="562.0790000000001" stroke="#e5348f" stroke-width="0.95" />
<line x1="201.79" y1="564.4250000000001" x2="205.39000000000001" y2="564.4250000000001" stroke="#e5348f" stroke-width="0.95" />
<polygon points="202.09,564.45 205.09,564.45 203.59,561.75" fill="#e5348f"/>
<line x1="216.67000000000002" y1="563.643" x2="216.67000000000002" y2="565.989" stroke="#e5348f" stroke-width="0.95" />
<line x1="214.87" y1="563.643" x2="218.47000000000003" y2="563.643" stroke="#e5348f" stroke-width="0.95" />
<line x1="214.87" y1="565.989" x2="218.47000000000003" y2="565.989" stroke="#e5348f" stroke-width="0.95" />
<polygon points="215.17,566.02 218.17,566.02 216.67,563.32" fill="#e5348f"/>
<line x1="226.48000000000002" y1="563.2520000000001" x2="226.48000000000002" y2="565.5980000000001" stroke="#e5348f" stroke-width="0.95" />
<line x1="224.68" y1="563.2520000000001" x2="228.28000000000003" y2="563.2520000000001" stroke="#e5348f" stroke-width="0.95" />
<line x1="224.68" y1="565.5980000000001" x2="228.28000000000003" y2="565.5980000000001" stroke="#e5348f" stroke-width="0.95" />
<polygon points="224.98,565.63 227.98,565.63 226.48,562.93" fill="#e5348f"/>
<line x1="239.56" y1="564.4250000000001" x2="239.56" y2="566.7710000000001" stroke="#e5348f" stroke-width="0.95" />
<line x1="237.76" y1="564.4250000000001" x2="241.36" y2="564.4250000000001" stroke="#e5348f" stroke-width="0.95" />
<line x1="237.76" y1="566.7710000000001" x2="241.36" y2="566.7710000000001" stroke="#e5348f" stroke-width="0.95" />
<polygon points="238.06,566.80 241.06,566.80 239.56,564.10" fill="#e5348f"/>
<polyline points="148.00,565.60 157.81,566.77 170.89,568.34 180.70,567.94 193.78,567.55 203.59,567.16 216.67,567.94 226.48,567.16 239.56,569.51" fill="none" stroke="#4cc35b" stroke-width="1"/>
<line x1="148.0" y1="564.0340000000001" x2="148.0" y2="567.162" stroke="#4cc35b" stroke-width="0.95" />
<line x1="146.2" y1="564.0340000000001" x2="149.8" y2="564.0340000000001" stroke="#4cc35b" stroke-width="0.95" />
<line x1="146.2" y1="567.162" x2="149.8" y2="567.162" stroke="#4cc35b" stroke-width="0.95" />
<rect x="146.6" y="564.2" width="2.8" height="2.8" fill="#4cc35b" />
<line x1="157.81" y1="565.2070000000001" x2="157.81" y2="568.335" stroke="#4cc35b" stroke-width="0.95" />
<line x1="156.01" y1="565.2070000000001" x2="159.61" y2="565.2070000000001" stroke="#4cc35b" stroke-width="0.95" />
<line x1="156.01" y1="568.335" x2="159.61" y2="568.335" stroke="#4cc35b" stroke-width="0.95" />
<rect x="156.41" y="565.37" width="2.8" height="2.8" fill="#4cc35b" />
<line x1="170.89" y1="566.7710000000001" x2="170.89" y2="569.899" stroke="#4cc35b" stroke-width="0.95" />
<line x1="169.08999999999997" y1="566.7710000000001" x2="172.69" y2="566.7710000000001" stroke="#4cc35b" stroke-width="0.95" />
<line x1="169.08999999999997" y1="569.899" x2="172.69" y2="569.899" stroke="#4cc35b" stroke-width="0.95" />
<rect x="169.49" y="566.94" width="2.8" height="2.8" fill="#4cc35b" />
<line x1="180.7" y1="566.3800000000001" x2="180.7" y2="569.508" stroke="#4cc35b" stroke-width="0.95" />
<line x1="178.89999999999998" y1="566.3800000000001" x2="182.5" y2="566.3800000000001" stroke="#4cc35b" stroke-width="0.95" />
<line x1="178.89999999999998" y1="569.508" x2="182.5" y2="569.508" stroke="#4cc35b" stroke-width="0.95" />
<rect x="179.3" y="566.54" width="2.8" height="2.8" fill="#4cc35b" />
<line x1="193.78" y1="565.989" x2="193.78" y2="569.117" stroke="#4cc35b" stroke-width="0.95" />
<line x1="191.98" y1="565.989" x2="195.58" y2="565.989" stroke="#4cc35b" stroke-width="0.95" />
<line x1="191.98" y1="569.117" x2="195.58" y2="569.117" stroke="#4cc35b" stroke-width="0.95" />
<rect x="192.38" y="566.15" width="2.8" height="2.8" fill="#4cc35b" />
<line x1="203.59" y1="565.5980000000001" x2="203.59" y2="568.726" stroke="#4cc35b" stroke-width="0.95" />
<line x1="201.79" y1="565.5980000000001" x2="205.39000000000001" y2="565.5980000000001" stroke="#4cc35b" stroke-width="0.95" />
<line x1="201.79" y1="568.726" x2="205.39000000000001" y2="568.726" stroke="#4cc35b" stroke-width="0.95" />
<rect x="202.19" y="565.76" width="2.8" height="2.8" fill="#4cc35b" />
<line x1="216.67000000000002" y1="566.3800000000001" x2="216.67000000000002" y2="569.508" stroke="#4cc35b" stroke-width="0.95" />
<line x1="214.87" y1="566.3800000000001" x2="218.47000000000003" y2="566.3800000000001" stroke="#4cc35b" stroke-width="0.95" />
<line x1="214.87" y1="569.508" x2="218.47000000000003" y2="569.508" stroke="#4cc35b" stroke-width="0.95" />
<rect x="215.27" y="566.54" width="2.8" height="2.8" fill="#4cc35b" />
<line x1="226.48000000000002" y1="565.5980000000001" x2="226.48000000000002" y2="568.726" stroke="#4cc35b" stroke-width="0.95" />
<line x1="224.68" y1="565.5980000000001" x2="228.28000000000003" y2="565.5980000000001" stroke="#4cc35b" stroke-width="0.95" />
<line x1="224.68" y1="568.726" x2="228.28000000000003" y2="568.726" stroke="#4cc35b" stroke-width="0.95" />
<rect x="225.08" y="565.76" width="2.8" height="2.8" fill="#4cc35b" />
<line x1="239.56" y1="567.9440000000001" x2="239.56" y2="571.072" stroke="#4cc35b" stroke-width="0.95" />
<line x1="237.76" y1="567.9440000000001" x2="241.36" y2="567.9440000000001" stroke="#4cc35b" stroke-width="0.95" />
<line x1="237.76" y1="571.072" x2="241.36" y2="571.072" stroke="#4cc35b" stroke-width="0.95" />
<rect x="238.16" y="568.11" width="2.8" height="2.8" fill="#4cc35b" />
<polyline points="148.00,566.38 157.81,568.34 170.89,570.29 180.70,568.34 193.78,567.55 203.59,567.94 216.67,567.55 226.48,566.77 239.56,568.34" fill="none" stroke="#1f9345" stroke-width="1"/>
<line x1="148.0" y1="564.816" x2="148.0" y2="567.944" stroke="#1f9345" stroke-width="0.95" />
<line x1="146.2" y1="564.816" x2="149.8" y2="564.816" stroke="#1f9345" stroke-width="0.95" />
<line x1="146.2" y1="567.944" x2="149.8" y2="567.944" stroke="#1f9345" stroke-width="0.95" />
<polygon points="146.50,565.18 149.50,565.18 148.00,567.88" fill="#1f9345"/>
<line x1="157.81" y1="566.7710000000001" x2="157.81" y2="569.899" stroke="#1f9345" stroke-width="0.95" />
<line x1="156.01" y1="566.7710000000001" x2="159.61" y2="566.7710000000001" stroke="#1f9345" stroke-width="0.95" />
<line x1="156.01" y1="569.899" x2="159.61" y2="569.899" stroke="#1f9345" stroke-width="0.95" />
<polygon points="156.31,567.13 159.31,567.13 157.81,569.84" fill="#1f9345"/>
<line x1="170.89" y1="568.7260000000001" x2="170.89" y2="571.854" stroke="#1f9345" stroke-width="0.95" />
<line x1="169.08999999999997" y1="568.7260000000001" x2="172.69" y2="568.7260000000001" stroke="#1f9345" stroke-width="0.95" />
<line x1="169.08999999999997" y1="571.854" x2="172.69" y2="571.854" stroke="#1f9345" stroke-width="0.95" />
<polygon points="169.39,569.09 172.39,569.09 170.89,571.79" fill="#1f9345"/>
<line x1="180.7" y1="566.7710000000001" x2="180.7" y2="569.899" stroke="#1f9345" stroke-width="0.95" />
<line x1="178.89999999999998" y1="566.7710000000001" x2="182.5" y2="566.7710000000001" stroke="#1f9345" stroke-width="0.95" />
<line x1="178.89999999999998" y1="569.899" x2="182.5" y2="569.899" stroke="#1f9345" stroke-width="0.95" />
<polygon points="179.20,567.13 182.20,567.13 180.70,569.84" fill="#1f9345"/>
<line x1="193.78" y1="565.989" x2="193.78" y2="569.117" stroke="#1f9345" stroke-width="0.95" />
<line x1="191.98" y1="565.989" x2="195.58" y2="565.989" stroke="#1f9345" stroke-width="0.95" />
<line x1="191.98" y1="569.117" x2="195.58" y2="569.117" stroke="#1f9345" stroke-width="0.95" />
<polygon points="192.28,566.35 195.28,566.35 193.78,569.05" fill="#1f9345"/>
<line x1="203.59" y1="566.3800000000001" x2="203.59" y2="569.508" stroke="#1f9345" stroke-width="0.95" />
<line x1="201.79" y1="566.3800000000001" x2="205.39000000000001" y2="566.3800000000001" stroke="#1f9345" stroke-width="0.95" />
<line x1="201.79" y1="569.508" x2="205.39000000000001" y2="569.508" stroke="#1f9345" stroke-width="0.95" />
<polygon points="202.09,566.74 205.09,566.74 203.59,569.44" fill="#1f9345"/>
<line x1="216.67000000000002" y1="565.989" x2="216.67000000000002" y2="569.117" stroke="#1f9345" stroke-width="0.95" />
<line x1="214.87" y1="565.989" x2="218.47000000000003" y2="565.989" stroke="#1f9345" stroke-width="0.95" />
<line x1="214.87" y1="569.117" x2="218.47000000000003" y2="569.117" stroke="#1f9345" stroke-width="0.95" />
<polygon points="215.17,566.35 218.17,566.35 216.67,569.05" fill="#1f9345"/>
<line x1="226.48000000000002" y1="565.2070000000001" x2="226.48000000000002" y2="568.335" stroke="#1f9345" stroke-width="0.95" />
<line x1="224.68" y1="565.2070000000001" x2="228.28000000000003" y2="565.2070000000001" stroke="#1f9345" stroke-width="0.95" />
<line x1="224.68" y1="568.335" x2="228.28000000000003" y2="568.335" stroke="#1f9345" stroke-width="0.95" />
<polygon points="224.98,565.57 227.98,565.57 226.48,568.27" fill="#1f9345"/>
<line x1="239.56" y1="566.7710000000001" x2="239.56" y2="569.899" stroke="#1f9345" stroke-width="0.95" />
<line x1="237.76" y1="566.7710000000001" x2="241.36" y2="566.7710000000001" stroke="#1f9345" stroke-width="0.95" />
<line x1="237.76" y1="569.899" x2="241.36" y2="569.899" stroke="#1f9345" stroke-width="0.95" />
<polygon points="238.06,567.13 241.06,567.13 239.56,569.84" fill="#1f9345"/>
<text x="137" y="557.3" font-size="6.6" font-weight="bold" fill="#222" textLength="7" lengthAdjust="spacingAndGlyphs">***</text>
<text x="137" y="566.0" font-size="6.6" font-weight="bold" fill="#222" textLength="7" lengthAdjust="spacingAndGlyphs">***</text>
<text x="137" y="569.0" font-size="6.6" font-weight="bold" fill="#222" textLength="7" lengthAdjust="spacingAndGlyphs">***</text>
<line x1="180" y1="461.09999999999997" x2="188.4" y2="461.09999999999997" stroke="#111" stroke-width="1.3" />
<circle cx="184.2" cy="461.09999999999997" r="1.8" fill="#111"/>
<text x="193" y="463.7" font-size="7.2" fill="#111" textLength="22.75" lengthAdjust="spacingAndGlyphs">Vehicle</text>
<line x1="180" y1="470.0" x2="188.4" y2="470.0" stroke="#e5348f" stroke-width="1.3" />
<polygon points="182.6,471.3 185.79999999999998,471.3 184.2,468.4" fill="#e5348f"/>
<text x="193" y="472.6" font-size="7.2" fill="#111" textLength="70.75" lengthAdjust="spacingAndGlyphs">Fulvestrant 3 mg/dose</text>
<line x1="180" y1="478.9" x2="188.4" y2="478.9" stroke="#4cc35b" stroke-width="1.3" />
<rect x="182.5" y="477.2" width="3.4" height="3.4" fill="#4cc35b" />
<text x="193" y="481.5" font-size="7.2" fill="#111" textLength="67.5" lengthAdjust="spacingAndGlyphs">Elacestrant 30 mg/kg</text>
<line x1="180" y1="487.79999999999995" x2="188.4" y2="487.79999999999995" stroke="#1f9345" stroke-width="1.3" />
<polygon points="182.6,486.49999999999994 185.79999999999998,486.49999999999994 184.2,489.4" fill="#1f9345"/>
<text x="193" y="490.4" font-size="7.2" fill="#111" textLength="67.5" lengthAdjust="spacingAndGlyphs">Elacestrant 60 mg/kg</text>
<rect x="164.3" y="496.3" width="97" height="58.7" fill="#e9e8e8" />
<line x1="190" y1="500.5" x2="190" y2="540.5" stroke="#222" stroke-width="0.8" />
<line x1="190" y1="511.7" x2="260" y2="511.7" stroke="#222" stroke-width="0.8" />
<line x1="188" y1="502.2" x2="190" y2="502.2" stroke="#222" stroke-width="0.6" />
<text x="187.5" y="504.2" font-size="5.6" text-anchor="end" fill="#111">20</text>
<line x1="188" y1="511.7" x2="190" y2="511.7" stroke="#222" stroke-width="0.6" />
<text x="187.5" y="513.7" font-size="5.6" text-anchor="end" fill="#111">0</text>
<line x1="188" y1="521.2" x2="190" y2="521.2" stroke="#222" stroke-width="0.6" />
<text x="187.5" y="523.2" font-size="5.6" text-anchor="end" fill="#111">–20</text>
<line x1="188" y1="530.7" x2="190" y2="530.7" stroke="#222" stroke-width="0.6" />
<text x="187.5" y="532.7" font-size="5.6" text-anchor="end" fill="#111">–40</text>
<line x1="188" y1="540.2" x2="190" y2="540.2" stroke="#222" stroke-width="0.6" />
<text x="187.5" y="542.2" font-size="5.6" text-anchor="end" fill="#111">–60</text>
<rect x="197.5" y="511.7" width="10.5" height="5.22" fill="#e5348f" />
<line x1="202.75" y1="516.925" x2="202.75" y2="523.1" stroke="#333" stroke-width="0.6" />
<line x1="200.45" y1="523.1" x2="205.05" y2="523.1" stroke="#333" stroke-width="0.6" />
<rect x="220.8" y="511.7" width="11.0" height="6.18" fill="#4cc35b" />
<line x1="226.3" y1="517.875" x2="226.3" y2="528.8" stroke="#333" stroke-width="0.6" />
<line x1="224.0" y1="528.8" x2="228.60000000000002" y2="528.8" stroke="#333" stroke-width="0.6" />
<rect x="243" y="511.7" width="10.800000000000011" height="11.88" fill="#1f9345" />
<line x1="248.4" y1="523.575" x2="248.4" y2="532.6" stroke="#333" stroke-width="0.6" />
<line x1="246.1" y1="532.6" x2="250.70000000000002" y2="532.6" stroke="#333" stroke-width="0.6" />
<text x="205.5" y="503" font-size="4.9" fill="#222" textLength="22" lengthAdjust="spacingAndGlyphs" font-style="italic">n = 3/arm</text>
<text x="190.8" y="544.6" font-size="5.2" fill="#222" textLength="24.7" lengthAdjust="spacingAndGlyphs">Fulvestrant</text>
<text x="226.3" y="544.6" font-size="5.2" text-anchor="middle" fill="#222">30</text>
<text x="248.3" y="544.6" font-size="5.2" text-anchor="middle" fill="#222">60</text>
<line x1="217.5" y1="546.8" x2="259.3" y2="546.8" stroke="#333" stroke-width="0.6" />
<text x="214.5" y="552.6" font-size="5.2" fill="#222" textLength="45.5" lengthAdjust="spacingAndGlyphs">Elacestrant (mg/kg)</text>
<text x="169.8" y="521" font-size="4.9" font-weight="bold" text-anchor="middle" fill="#111" transform="rotate(-90 169.8 521)">%Change</text>
<text x="176.6" y="521" font-size="4.9" font-weight="bold" text-anchor="middle" fill="#111" transform="rotate(-90 176.6 521)">posttreatment</text>
<text x="375.8" y="467.5" font-size="9.2" font-weight="bold" fill="#111" textLength="85.5" lengthAdjust="spacingAndGlyphs">Elacestrant (mg/kg)</text>
<line x1="365" y1="471.3" x2="472.5" y2="471.3" stroke="#333" stroke-width="1.2" />
<text x="339.3" y="479.4" font-size="7.4" fill="#111" textLength="23.2" lengthAdjust="spacingAndGlyphs">Vehicle</text>
<text x="381.3" y="479.5" font-size="7.8" text-anchor="middle" fill="#111">30</text>
<text x="417" y="479.5" font-size="7.8" text-anchor="middle" fill="#111">60</text>
<text x="455.5" y="479.5" font-size="7.8" text-anchor="middle" fill="#111">90</text>
<line x1="365" y1="481.4" x2="397.5" y2="481.4" stroke="#555" stroke-width="0.9" />
<line x1="400.5" y1="481.4" x2="435" y2="481.4" stroke="#555" stroke-width="0.9" />
<line x1="438.8" y1="481.4" x2="472.5" y2="481.4" stroke="#555" stroke-width="0.9" />
<rect x="342" y="483.3" width="133.8" height="12.2" fill="#eeeeee" stroke="#888" stroke-width="0.7" />
<rect x="342" y="501.3" width="133.8" height="10" fill="#e6e6e6" stroke="#777" stroke-width="0.7" />
<text x="337.7" y="494.3" font-size="8.9" font-weight="bold" text-anchor="end" fill="#111">PR</text>
<text x="303.8" y="509.6" font-size="8.9" font-weight="bold" fill="#111" textLength="34.3" lengthAdjust="spacingAndGlyphs">Vinculin</text>
<rect x="344.70" y="489.8" width="6.8" height="2.3" rx="1" fill="#000" opacity="0.85" filter="url(#bl2)"/>
<rect x="344.90" y="485.0" width="6.4" height="1.7" rx="0.8" fill="#000" opacity="0.35" filter="url(#bl2)"/>
<rect x="353.95" y="489.8" width="6.8" height="2.3" rx="1" fill="#000" opacity="0.9" filter="url(#bl2)"/>
<rect x="354.15" y="485.0" width="6.4" height="1.7" rx="0.8" fill="#000" opacity="0.45" filter="url(#bl2)"/>
<rect x="363.20" y="489.8" width="6.8" height="2.3" rx="1" fill="#000" opacity="0.6" filter="url(#bl2)"/>
<rect x="363.40" y="485.0" width="6.4" height="1.7" rx="0.8" fill="#000" opacity="0.2" filter="url(#bl2)"/>
<rect x="372.45" y="489.8" width="6.8" height="2.3" rx="1" fill="#000" opacity="0.15" filter="url(#bl2)"/>
<rect x="344.60" y="505.1" width="7.2" height="2.2" rx="1" fill="#000" opacity="0.82" filter="url(#bl2)"/>
<rect x="345.00" y="508.6" width="6" height="1" rx="0.5" fill="#000" opacity="0.12" filter="url(#bl2)"/>
<rect x="353.85" y="505.1" width="7.2" height="2.2" rx="1" fill="#000" opacity="0.82" filter="url(#bl2)"/>
<rect x="354.25" y="508.6" width="6" height="1" rx="0.5" fill="#000" opacity="0.12" filter="url(#bl2)"/>
<rect x="363.10" y="505.1" width="7.2" height="2.2" rx="1" fill="#000" opacity="0.82" filter="url(#bl2)"/>
<rect x="363.50" y="508.6" width="6" height="1" rx="0.5" fill="#000" opacity="0.12" filter="url(#bl2)"/>
<rect x="372.35" y="505.1" width="7.2" height="2.2" rx="1" fill="#000" opacity="0.82" filter="url(#bl2)"/>
<rect x="372.75" y="508.6" width="6" height="1" rx="0.5" fill="#000" opacity="0.12" filter="url(#bl2)"/>
<rect x="381.60" y="505.1" width="7.2" height="2.2" rx="1" fill="#000" opacity="0.82" filter="url(#bl2)"/>
<rect x="382.00" y="508.6" width="6" height="1" rx="0.5" fill="#000" opacity="0.12" filter="url(#bl2)"/>
<rect x="390.85" y="505.1" width="7.2" height="2.2" rx="1" fill="#000" opacity="0.82" filter="url(#bl2)"/>
<rect x="391.25" y="508.6" width="6" height="1" rx="0.5" fill="#000" opacity="0.12" filter="url(#bl2)"/>
<rect x="400.10" y="505.1" width="7.2" height="2.2" rx="1" fill="#000" opacity="0.82" filter="url(#bl2)"/>
<rect x="400.50" y="508.6" width="6" height="1" rx="0.5" fill="#000" opacity="0.12" filter="url(#bl2)"/>
<rect x="409.35" y="505.1" width="7.2" height="2.2" rx="1" fill="#000" opacity="0.82" filter="url(#bl2)"/>
<rect x="409.75" y="508.6" width="6" height="1" rx="0.5" fill="#000" opacity="0.12" filter="url(#bl2)"/>
<rect x="418.60" y="505.1" width="7.2" height="2.2" rx="1" fill="#000" opacity="0.82" filter="url(#bl2)"/>
<rect x="419.00" y="508.6" width="6" height="1" rx="0.5" fill="#000" opacity="0.12" filter="url(#bl2)"/>
<rect x="427.85" y="505.1" width="7.2" height="2.2" rx="1" fill="#000" opacity="0.82" filter="url(#bl2)"/>
<rect x="428.25" y="508.6" width="6" height="1" rx="0.5" fill="#000" opacity="0.12" filter="url(#bl2)"/>
<rect x="437.10" y="505.1" width="7.2" height="2.2" rx="1" fill="#000" opacity="0.82" filter="url(#bl2)"/>
<rect x="437.50" y="508.6" width="6" height="1" rx="0.5" fill="#000" opacity="0.12" filter="url(#bl2)"/>
<rect x="446.35" y="505.1" width="7.2" height="2.2" rx="1" fill="#000" opacity="0.82" filter="url(#bl2)"/>
<rect x="446.75" y="508.6" width="6" height="1" rx="0.5" fill="#000" opacity="0.12" filter="url(#bl2)"/>
<rect x="455.60" y="505.1" width="7.2" height="2.2" rx="1" fill="#000" opacity="0.82" filter="url(#bl2)"/>
<rect x="456.00" y="508.6" width="6" height="1" rx="0.5" fill="#000" opacity="0.12" filter="url(#bl2)"/>
<rect x="464.85" y="505.1" width="7.2" height="2.2" rx="1" fill="#000" opacity="0.82" filter="url(#bl2)"/>
<rect x="465.25" y="508.6" width="6" height="1" rx="0.5" fill="#000" opacity="0.12" filter="url(#bl2)"/>
</svg>
</body></html>
